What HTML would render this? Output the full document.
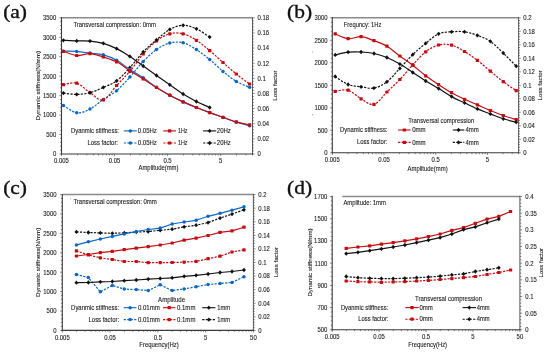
<!DOCTYPE html>
<html><head><meta charset="utf-8"><style>
html,body{margin:0;padding:0;background:#fff;}
body{width:550px;height:354px;overflow:hidden;font-family:"Liberation Sans", sans-serif;}
svg{display:block;filter:blur(0.35px);}
</style></head><body>
<svg width="550" height="354" viewBox="0 0 550 354">
<rect width="550" height="354" fill="#ffffff"/>
<line x1="61.50" y1="17.80" x2="252.50" y2="17.80" stroke="#8a8a8a" stroke-width="1.5" />
<line x1="61.50" y1="17.10" x2="61.50" y2="154.50" stroke="#3a3a3a" stroke-width="1.1" />
<line x1="252.50" y1="17.10" x2="252.50" y2="154.50" stroke="#5a5a5a" stroke-width="1.0" />
<line x1="61.00" y1="154.00" x2="253.00" y2="154.00" stroke="#3a3a3a" stroke-width="1.1" />
<line x1="59.30" y1="154.00" x2="61.50" y2="154.00" stroke="#3a3a3a" stroke-width="0.6" />
<line x1="60.10" y1="150.11" x2="61.50" y2="150.11" stroke="#3a3a3a" stroke-width="0.6" />
<line x1="60.10" y1="146.22" x2="61.50" y2="146.22" stroke="#3a3a3a" stroke-width="0.6" />
<line x1="60.10" y1="142.33" x2="61.50" y2="142.33" stroke="#3a3a3a" stroke-width="0.6" />
<line x1="60.10" y1="138.43" x2="61.50" y2="138.43" stroke="#3a3a3a" stroke-width="0.6" />
<line x1="59.30" y1="134.54" x2="61.50" y2="134.54" stroke="#3a3a3a" stroke-width="0.6" />
<line x1="60.10" y1="130.65" x2="61.50" y2="130.65" stroke="#3a3a3a" stroke-width="0.6" />
<line x1="60.10" y1="126.76" x2="61.50" y2="126.76" stroke="#3a3a3a" stroke-width="0.6" />
<line x1="60.10" y1="122.87" x2="61.50" y2="122.87" stroke="#3a3a3a" stroke-width="0.6" />
<line x1="60.10" y1="118.98" x2="61.50" y2="118.98" stroke="#3a3a3a" stroke-width="0.6" />
<line x1="59.30" y1="115.09" x2="61.50" y2="115.09" stroke="#3a3a3a" stroke-width="0.6" />
<line x1="60.10" y1="111.19" x2="61.50" y2="111.19" stroke="#3a3a3a" stroke-width="0.6" />
<line x1="60.10" y1="107.30" x2="61.50" y2="107.30" stroke="#3a3a3a" stroke-width="0.6" />
<line x1="60.10" y1="103.41" x2="61.50" y2="103.41" stroke="#3a3a3a" stroke-width="0.6" />
<line x1="60.10" y1="99.52" x2="61.50" y2="99.52" stroke="#3a3a3a" stroke-width="0.6" />
<line x1="59.30" y1="95.63" x2="61.50" y2="95.63" stroke="#3a3a3a" stroke-width="0.6" />
<line x1="60.10" y1="91.74" x2="61.50" y2="91.74" stroke="#3a3a3a" stroke-width="0.6" />
<line x1="60.10" y1="87.85" x2="61.50" y2="87.85" stroke="#3a3a3a" stroke-width="0.6" />
<line x1="60.10" y1="83.95" x2="61.50" y2="83.95" stroke="#3a3a3a" stroke-width="0.6" />
<line x1="60.10" y1="80.06" x2="61.50" y2="80.06" stroke="#3a3a3a" stroke-width="0.6" />
<line x1="59.30" y1="76.17" x2="61.50" y2="76.17" stroke="#3a3a3a" stroke-width="0.6" />
<line x1="60.10" y1="72.28" x2="61.50" y2="72.28" stroke="#3a3a3a" stroke-width="0.6" />
<line x1="60.10" y1="68.39" x2="61.50" y2="68.39" stroke="#3a3a3a" stroke-width="0.6" />
<line x1="60.10" y1="64.50" x2="61.50" y2="64.50" stroke="#3a3a3a" stroke-width="0.6" />
<line x1="60.10" y1="60.61" x2="61.50" y2="60.61" stroke="#3a3a3a" stroke-width="0.6" />
<line x1="59.30" y1="56.71" x2="61.50" y2="56.71" stroke="#3a3a3a" stroke-width="0.6" />
<line x1="60.10" y1="52.82" x2="61.50" y2="52.82" stroke="#3a3a3a" stroke-width="0.6" />
<line x1="60.10" y1="48.93" x2="61.50" y2="48.93" stroke="#3a3a3a" stroke-width="0.6" />
<line x1="60.10" y1="45.04" x2="61.50" y2="45.04" stroke="#3a3a3a" stroke-width="0.6" />
<line x1="60.10" y1="41.15" x2="61.50" y2="41.15" stroke="#3a3a3a" stroke-width="0.6" />
<line x1="59.30" y1="37.26" x2="61.50" y2="37.26" stroke="#3a3a3a" stroke-width="0.6" />
<line x1="60.10" y1="33.37" x2="61.50" y2="33.37" stroke="#3a3a3a" stroke-width="0.6" />
<line x1="60.10" y1="29.47" x2="61.50" y2="29.47" stroke="#3a3a3a" stroke-width="0.6" />
<line x1="60.10" y1="25.58" x2="61.50" y2="25.58" stroke="#3a3a3a" stroke-width="0.6" />
<line x1="60.10" y1="21.69" x2="61.50" y2="21.69" stroke="#3a3a3a" stroke-width="0.6" />
<line x1="59.30" y1="17.80" x2="61.50" y2="17.80" stroke="#3a3a3a" stroke-width="0.6" />
<text x="56.20" y="156.40" font-size="6.6" text-anchor="end" fill="#1a1a1a" font-family="Liberation Sans" stroke="#1a1a1a" stroke-width="0.1" transform="translate(56.20 156.40) scale(0.9 1) translate(-56.20 -156.40)" >0</text>
<text x="56.20" y="136.94" font-size="6.6" text-anchor="end" fill="#1a1a1a" font-family="Liberation Sans" stroke="#1a1a1a" stroke-width="0.1" transform="translate(56.20 136.94) scale(0.9 1) translate(-56.20 -136.94)" >500</text>
<text x="56.20" y="117.49" font-size="6.6" text-anchor="end" fill="#1a1a1a" font-family="Liberation Sans" stroke="#1a1a1a" stroke-width="0.1" transform="translate(56.20 117.49) scale(0.9 1) translate(-56.20 -117.49)" >1000</text>
<text x="56.20" y="98.03" font-size="6.6" text-anchor="end" fill="#1a1a1a" font-family="Liberation Sans" stroke="#1a1a1a" stroke-width="0.1" transform="translate(56.20 98.03) scale(0.9 1) translate(-56.20 -98.03)" >1500</text>
<text x="56.20" y="78.57" font-size="6.6" text-anchor="end" fill="#1a1a1a" font-family="Liberation Sans" stroke="#1a1a1a" stroke-width="0.1" transform="translate(56.20 78.57) scale(0.9 1) translate(-56.20 -78.57)" >2000</text>
<text x="56.20" y="59.11" font-size="6.6" text-anchor="end" fill="#1a1a1a" font-family="Liberation Sans" stroke="#1a1a1a" stroke-width="0.1" transform="translate(56.20 59.11) scale(0.9 1) translate(-56.20 -59.11)" >2500</text>
<text x="56.20" y="39.66" font-size="6.6" text-anchor="end" fill="#1a1a1a" font-family="Liberation Sans" stroke="#1a1a1a" stroke-width="0.1" transform="translate(56.20 39.66) scale(0.9 1) translate(-56.20 -39.66)" >3000</text>
<text x="56.20" y="20.20" font-size="6.6" text-anchor="end" fill="#1a1a1a" font-family="Liberation Sans" stroke="#1a1a1a" stroke-width="0.1" transform="translate(56.20 20.20) scale(0.9 1) translate(-56.20 -20.20)" >3500</text>
<line x1="252.50" y1="154.00" x2="254.70" y2="154.00" stroke="#3a3a3a" stroke-width="0.6" />
<line x1="252.50" y1="150.97" x2="253.90" y2="150.97" stroke="#3a3a3a" stroke-width="0.6" />
<line x1="252.50" y1="147.95" x2="253.90" y2="147.95" stroke="#3a3a3a" stroke-width="0.6" />
<line x1="252.50" y1="144.92" x2="253.90" y2="144.92" stroke="#3a3a3a" stroke-width="0.6" />
<line x1="252.50" y1="141.89" x2="253.90" y2="141.89" stroke="#3a3a3a" stroke-width="0.6" />
<line x1="252.50" y1="138.87" x2="254.70" y2="138.87" stroke="#3a3a3a" stroke-width="0.6" />
<line x1="252.50" y1="135.84" x2="253.90" y2="135.84" stroke="#3a3a3a" stroke-width="0.6" />
<line x1="252.50" y1="132.81" x2="253.90" y2="132.81" stroke="#3a3a3a" stroke-width="0.6" />
<line x1="252.50" y1="129.79" x2="253.90" y2="129.79" stroke="#3a3a3a" stroke-width="0.6" />
<line x1="252.50" y1="126.76" x2="253.90" y2="126.76" stroke="#3a3a3a" stroke-width="0.6" />
<line x1="252.50" y1="123.73" x2="254.70" y2="123.73" stroke="#3a3a3a" stroke-width="0.6" />
<line x1="252.50" y1="120.71" x2="253.90" y2="120.71" stroke="#3a3a3a" stroke-width="0.6" />
<line x1="252.50" y1="117.68" x2="253.90" y2="117.68" stroke="#3a3a3a" stroke-width="0.6" />
<line x1="252.50" y1="114.65" x2="253.90" y2="114.65" stroke="#3a3a3a" stroke-width="0.6" />
<line x1="252.50" y1="111.63" x2="253.90" y2="111.63" stroke="#3a3a3a" stroke-width="0.6" />
<line x1="252.50" y1="108.60" x2="254.70" y2="108.60" stroke="#3a3a3a" stroke-width="0.6" />
<line x1="252.50" y1="105.57" x2="253.90" y2="105.57" stroke="#3a3a3a" stroke-width="0.6" />
<line x1="252.50" y1="102.55" x2="253.90" y2="102.55" stroke="#3a3a3a" stroke-width="0.6" />
<line x1="252.50" y1="99.52" x2="253.90" y2="99.52" stroke="#3a3a3a" stroke-width="0.6" />
<line x1="252.50" y1="96.49" x2="253.90" y2="96.49" stroke="#3a3a3a" stroke-width="0.6" />
<line x1="252.50" y1="93.47" x2="254.70" y2="93.47" stroke="#3a3a3a" stroke-width="0.6" />
<line x1="252.50" y1="90.44" x2="253.90" y2="90.44" stroke="#3a3a3a" stroke-width="0.6" />
<line x1="252.50" y1="87.41" x2="253.90" y2="87.41" stroke="#3a3a3a" stroke-width="0.6" />
<line x1="252.50" y1="84.39" x2="253.90" y2="84.39" stroke="#3a3a3a" stroke-width="0.6" />
<line x1="252.50" y1="81.36" x2="253.90" y2="81.36" stroke="#3a3a3a" stroke-width="0.6" />
<line x1="252.50" y1="78.33" x2="254.70" y2="78.33" stroke="#3a3a3a" stroke-width="0.6" />
<line x1="252.50" y1="75.31" x2="253.90" y2="75.31" stroke="#3a3a3a" stroke-width="0.6" />
<line x1="252.50" y1="72.28" x2="253.90" y2="72.28" stroke="#3a3a3a" stroke-width="0.6" />
<line x1="252.50" y1="69.25" x2="253.90" y2="69.25" stroke="#3a3a3a" stroke-width="0.6" />
<line x1="252.50" y1="66.23" x2="253.90" y2="66.23" stroke="#3a3a3a" stroke-width="0.6" />
<line x1="252.50" y1="63.20" x2="254.70" y2="63.20" stroke="#3a3a3a" stroke-width="0.6" />
<line x1="252.50" y1="60.17" x2="253.90" y2="60.17" stroke="#3a3a3a" stroke-width="0.6" />
<line x1="252.50" y1="57.15" x2="253.90" y2="57.15" stroke="#3a3a3a" stroke-width="0.6" />
<line x1="252.50" y1="54.12" x2="253.90" y2="54.12" stroke="#3a3a3a" stroke-width="0.6" />
<line x1="252.50" y1="51.09" x2="253.90" y2="51.09" stroke="#3a3a3a" stroke-width="0.6" />
<line x1="252.50" y1="48.07" x2="254.70" y2="48.07" stroke="#3a3a3a" stroke-width="0.6" />
<line x1="252.50" y1="45.04" x2="253.90" y2="45.04" stroke="#3a3a3a" stroke-width="0.6" />
<line x1="252.50" y1="42.01" x2="253.90" y2="42.01" stroke="#3a3a3a" stroke-width="0.6" />
<line x1="252.50" y1="38.99" x2="253.90" y2="38.99" stroke="#3a3a3a" stroke-width="0.6" />
<line x1="252.50" y1="35.96" x2="253.90" y2="35.96" stroke="#3a3a3a" stroke-width="0.6" />
<line x1="252.50" y1="32.93" x2="254.70" y2="32.93" stroke="#3a3a3a" stroke-width="0.6" />
<line x1="252.50" y1="29.91" x2="253.90" y2="29.91" stroke="#3a3a3a" stroke-width="0.6" />
<line x1="252.50" y1="26.88" x2="253.90" y2="26.88" stroke="#3a3a3a" stroke-width="0.6" />
<line x1="252.50" y1="23.85" x2="253.90" y2="23.85" stroke="#3a3a3a" stroke-width="0.6" />
<line x1="252.50" y1="20.83" x2="253.90" y2="20.83" stroke="#3a3a3a" stroke-width="0.6" />
<line x1="252.50" y1="17.80" x2="254.70" y2="17.80" stroke="#3a3a3a" stroke-width="0.6" />
<text x="257.50" y="156.40" font-size="6.6" text-anchor="start" fill="#1a1a1a" font-family="Liberation Sans" stroke="#1a1a1a" stroke-width="0.1" transform="translate(257.50 156.40) scale(0.9 1) translate(-257.50 -156.40)" >0</text>
<text x="257.50" y="141.27" font-size="6.6" text-anchor="start" fill="#1a1a1a" font-family="Liberation Sans" stroke="#1a1a1a" stroke-width="0.1" transform="translate(257.50 141.27) scale(0.9 1) translate(-257.50 -141.27)" >0.02</text>
<text x="257.50" y="126.13" font-size="6.6" text-anchor="start" fill="#1a1a1a" font-family="Liberation Sans" stroke="#1a1a1a" stroke-width="0.1" transform="translate(257.50 126.13) scale(0.9 1) translate(-257.50 -126.13)" >0.04</text>
<text x="257.50" y="111.00" font-size="6.6" text-anchor="start" fill="#1a1a1a" font-family="Liberation Sans" stroke="#1a1a1a" stroke-width="0.1" transform="translate(257.50 111.00) scale(0.9 1) translate(-257.50 -111.00)" >0.06</text>
<text x="257.50" y="95.87" font-size="6.6" text-anchor="start" fill="#1a1a1a" font-family="Liberation Sans" stroke="#1a1a1a" stroke-width="0.1" transform="translate(257.50 95.87) scale(0.9 1) translate(-257.50 -95.87)" >0.08</text>
<text x="257.50" y="80.73" font-size="6.6" text-anchor="start" fill="#1a1a1a" font-family="Liberation Sans" stroke="#1a1a1a" stroke-width="0.1" transform="translate(257.50 80.73) scale(0.9 1) translate(-257.50 -80.73)" >0.1</text>
<text x="257.50" y="65.60" font-size="6.6" text-anchor="start" fill="#1a1a1a" font-family="Liberation Sans" stroke="#1a1a1a" stroke-width="0.1" transform="translate(257.50 65.60) scale(0.9 1) translate(-257.50 -65.60)" >0.12</text>
<text x="257.50" y="50.47" font-size="6.6" text-anchor="start" fill="#1a1a1a" font-family="Liberation Sans" stroke="#1a1a1a" stroke-width="0.1" transform="translate(257.50 50.47) scale(0.9 1) translate(-257.50 -50.47)" >0.14</text>
<text x="257.50" y="35.33" font-size="6.6" text-anchor="start" fill="#1a1a1a" font-family="Liberation Sans" stroke="#1a1a1a" stroke-width="0.1" transform="translate(257.50 35.33) scale(0.9 1) translate(-257.50 -35.33)" >0.16</text>
<text x="257.50" y="20.20" font-size="6.6" text-anchor="start" fill="#1a1a1a" font-family="Liberation Sans" stroke="#1a1a1a" stroke-width="0.1" transform="translate(257.50 20.20) scale(0.9 1) translate(-257.50 -20.20)" >0.18</text>
<line x1="61.50" y1="154.00" x2="61.50" y2="156.20" stroke="#3a3a3a" stroke-width="0.6" />
<text x="61.50" y="163.30" font-size="6.6" text-anchor="middle" fill="#1a1a1a" font-family="Liberation Sans" stroke="#1a1a1a" stroke-width="0.1" transform="translate(61.50 163.30) scale(0.9 1) translate(-61.50 -163.30)" >0.005</text>
<line x1="77.46" y1="154.00" x2="77.46" y2="155.40" stroke="#3a3a3a" stroke-width="0.6" />
<line x1="86.80" y1="154.00" x2="86.80" y2="155.40" stroke="#3a3a3a" stroke-width="0.6" />
<line x1="93.42" y1="154.00" x2="93.42" y2="155.40" stroke="#3a3a3a" stroke-width="0.6" />
<line x1="98.56" y1="154.00" x2="98.56" y2="155.40" stroke="#3a3a3a" stroke-width="0.6" />
<line x1="102.76" y1="154.00" x2="102.76" y2="155.40" stroke="#3a3a3a" stroke-width="0.6" />
<line x1="106.31" y1="154.00" x2="106.31" y2="155.40" stroke="#3a3a3a" stroke-width="0.6" />
<line x1="109.39" y1="154.00" x2="109.39" y2="155.40" stroke="#3a3a3a" stroke-width="0.6" />
<line x1="112.10" y1="154.00" x2="112.10" y2="155.40" stroke="#3a3a3a" stroke-width="0.6" />
<line x1="114.53" y1="154.00" x2="114.53" y2="156.20" stroke="#3a3a3a" stroke-width="0.6" />
<text x="114.53" y="163.30" font-size="6.6" text-anchor="middle" fill="#1a1a1a" font-family="Liberation Sans" stroke="#1a1a1a" stroke-width="0.1" transform="translate(114.53 163.30) scale(0.9 1) translate(-114.53 -163.30)" >0.05</text>
<line x1="130.49" y1="154.00" x2="130.49" y2="155.40" stroke="#3a3a3a" stroke-width="0.6" />
<line x1="139.82" y1="154.00" x2="139.82" y2="155.40" stroke="#3a3a3a" stroke-width="0.6" />
<line x1="146.45" y1="154.00" x2="146.45" y2="155.40" stroke="#3a3a3a" stroke-width="0.6" />
<line x1="151.59" y1="154.00" x2="151.59" y2="155.40" stroke="#3a3a3a" stroke-width="0.6" />
<line x1="155.79" y1="154.00" x2="155.79" y2="155.40" stroke="#3a3a3a" stroke-width="0.6" />
<line x1="159.34" y1="154.00" x2="159.34" y2="155.40" stroke="#3a3a3a" stroke-width="0.6" />
<line x1="162.41" y1="154.00" x2="162.41" y2="155.40" stroke="#3a3a3a" stroke-width="0.6" />
<line x1="165.12" y1="154.00" x2="165.12" y2="155.40" stroke="#3a3a3a" stroke-width="0.6" />
<line x1="167.55" y1="154.00" x2="167.55" y2="156.20" stroke="#3a3a3a" stroke-width="0.6" />
<text x="167.55" y="163.30" font-size="6.6" text-anchor="middle" fill="#1a1a1a" font-family="Liberation Sans" stroke="#1a1a1a" stroke-width="0.1" transform="translate(167.55 163.30) scale(0.9 1) translate(-167.55 -163.30)" >0.5</text>
<line x1="183.51" y1="154.00" x2="183.51" y2="155.40" stroke="#3a3a3a" stroke-width="0.6" />
<line x1="192.85" y1="154.00" x2="192.85" y2="155.40" stroke="#3a3a3a" stroke-width="0.6" />
<line x1="199.47" y1="154.00" x2="199.47" y2="155.40" stroke="#3a3a3a" stroke-width="0.6" />
<line x1="204.61" y1="154.00" x2="204.61" y2="155.40" stroke="#3a3a3a" stroke-width="0.6" />
<line x1="208.81" y1="154.00" x2="208.81" y2="155.40" stroke="#3a3a3a" stroke-width="0.6" />
<line x1="212.36" y1="154.00" x2="212.36" y2="155.40" stroke="#3a3a3a" stroke-width="0.6" />
<line x1="215.44" y1="154.00" x2="215.44" y2="155.40" stroke="#3a3a3a" stroke-width="0.6" />
<line x1="218.15" y1="154.00" x2="218.15" y2="155.40" stroke="#3a3a3a" stroke-width="0.6" />
<line x1="220.58" y1="154.00" x2="220.58" y2="156.20" stroke="#3a3a3a" stroke-width="0.6" />
<text x="220.58" y="163.30" font-size="6.6" text-anchor="middle" fill="#1a1a1a" font-family="Liberation Sans" stroke="#1a1a1a" stroke-width="0.1" transform="translate(220.58 163.30) scale(0.9 1) translate(-220.58 -163.30)" >5</text>
<line x1="236.54" y1="154.00" x2="236.54" y2="155.40" stroke="#3a3a3a" stroke-width="0.6" />
<line x1="245.88" y1="154.00" x2="245.88" y2="155.40" stroke="#3a3a3a" stroke-width="0.6" />
<line x1="252.50" y1="154.00" x2="252.50" y2="155.40" stroke="#3a3a3a" stroke-width="0.6" />
<path d="M63.40,105.40 C65.62,106.63 72.27,112.20 76.70,112.80 C81.13,113.40 85.57,111.22 90.00,109.00 C94.43,106.78 98.87,102.55 103.30,99.50 C107.73,96.45 112.17,94.43 116.60,90.70 C121.03,86.97 125.47,81.97 129.90,77.10 C134.33,72.23 138.77,66.10 143.20,61.50 C147.63,56.90 152.07,52.58 156.50,49.50 C160.93,46.42 165.37,44.13 169.80,43.00 C174.23,41.87 178.67,41.60 183.10,42.70 C187.53,43.80 191.97,46.80 196.40,49.60 C200.83,52.40 205.27,55.87 209.70,59.50 C214.13,63.13 218.57,67.75 223.00,71.40 C227.43,75.05 231.87,78.75 236.30,81.40 C240.73,84.05 247.38,86.32 249.60,87.30" fill="none" stroke="#0c66c4" stroke-width="1.2" stroke-dasharray="2.2,1.3"/>
<circle cx="63.40" cy="105.40" r="1.75" fill="#0c66c4"/>
<circle cx="76.70" cy="112.80" r="1.75" fill="#0c66c4"/>
<circle cx="90.00" cy="109.00" r="1.75" fill="#0c66c4"/>
<circle cx="103.30" cy="99.50" r="1.75" fill="#0c66c4"/>
<circle cx="116.60" cy="90.70" r="1.75" fill="#0c66c4"/>
<circle cx="129.90" cy="77.10" r="1.75" fill="#0c66c4"/>
<circle cx="143.20" cy="61.50" r="1.75" fill="#0c66c4"/>
<circle cx="156.50" cy="49.50" r="1.75" fill="#0c66c4"/>
<circle cx="169.80" cy="43.00" r="1.75" fill="#0c66c4"/>
<circle cx="183.10" cy="42.70" r="1.75" fill="#0c66c4"/>
<circle cx="196.40" cy="49.60" r="1.75" fill="#0c66c4"/>
<circle cx="209.70" cy="59.50" r="1.75" fill="#0c66c4"/>
<circle cx="223.00" cy="71.40" r="1.75" fill="#0c66c4"/>
<circle cx="236.30" cy="81.40" r="1.75" fill="#0c66c4"/>
<circle cx="249.60" cy="87.30" r="1.75" fill="#0c66c4"/>
<path d="M63.40,84.70 C65.62,84.45 72.27,81.87 76.70,83.20 C81.13,84.53 85.57,89.90 90.00,92.70 C94.43,95.50 98.87,101.20 103.30,100.00 C107.73,98.80 112.17,90.28 116.60,85.50 C121.03,80.72 125.47,76.55 129.90,71.30 C134.33,66.05 138.77,59.07 143.20,54.00 C147.63,48.93 152.07,44.27 156.50,40.90 C160.93,37.53 165.37,34.98 169.80,33.80 C174.23,32.62 178.67,32.72 183.10,33.80 C187.53,34.88 191.97,37.50 196.40,40.30 C200.83,43.10 205.27,46.90 209.70,50.60 C214.13,54.30 218.57,58.60 223.00,62.50 C227.43,66.40 231.87,70.42 236.30,74.00 C240.73,77.58 247.38,82.33 249.60,84.00" fill="none" stroke="#c40c12" stroke-width="1.2" stroke-dasharray="2.2,1.3"/>
<rect x="61.75" y="83.10" width="3.3" height="3.2" rx="0.6" fill="#c40c12"/>
<rect x="75.05" y="81.60" width="3.3" height="3.2" rx="0.6" fill="#c40c12"/>
<rect x="88.35" y="91.10" width="3.3" height="3.2" rx="0.6" fill="#c40c12"/>
<rect x="101.65" y="98.40" width="3.3" height="3.2" rx="0.6" fill="#c40c12"/>
<rect x="114.95" y="83.90" width="3.3" height="3.2" rx="0.6" fill="#c40c12"/>
<rect x="128.25" y="69.70" width="3.3" height="3.2" rx="0.6" fill="#c40c12"/>
<rect x="141.55" y="52.40" width="3.3" height="3.2" rx="0.6" fill="#c40c12"/>
<rect x="154.85" y="39.30" width="3.3" height="3.2" rx="0.6" fill="#c40c12"/>
<rect x="168.15" y="32.20" width="3.3" height="3.2" rx="0.6" fill="#c40c12"/>
<rect x="181.45" y="32.20" width="3.3" height="3.2" rx="0.6" fill="#c40c12"/>
<rect x="194.75" y="38.70" width="3.3" height="3.2" rx="0.6" fill="#c40c12"/>
<rect x="208.05" y="49.00" width="3.3" height="3.2" rx="0.6" fill="#c40c12"/>
<rect x="221.35" y="60.90" width="3.3" height="3.2" rx="0.6" fill="#c40c12"/>
<rect x="234.65" y="72.40" width="3.3" height="3.2" rx="0.6" fill="#c40c12"/>
<rect x="247.95" y="82.40" width="3.3" height="3.2" rx="0.6" fill="#c40c12"/>
<path d="M63.40,93.10 C65.62,93.32 72.27,94.47 76.70,94.40 C81.13,94.33 85.57,93.87 90.00,92.70 C94.43,91.53 98.87,89.37 103.30,87.40 C107.73,85.43 112.17,84.20 116.60,80.90 C121.03,77.60 125.47,72.43 129.90,67.60 C134.33,62.77 138.77,56.52 143.20,51.90 C147.63,47.28 152.07,43.65 156.50,39.90 C160.93,36.15 165.37,31.83 169.80,29.40 C174.23,26.97 178.67,25.40 183.10,25.30 C187.53,25.20 191.97,26.83 196.40,28.80 C200.83,30.77 207.48,35.72 209.70,37.10" fill="none" stroke="#111111" stroke-width="1.2" stroke-dasharray="2.2,1.3"/>
<path d="M63.40,90.95 L65.35,93.10 L63.40,95.25 L61.45,93.10 Z" fill="#111111"/>
<path d="M76.70,92.25 L78.65,94.40 L76.70,96.55 L74.75,94.40 Z" fill="#111111"/>
<path d="M90.00,90.55 L91.95,92.70 L90.00,94.85 L88.05,92.70 Z" fill="#111111"/>
<path d="M103.30,85.25 L105.25,87.40 L103.30,89.55 L101.35,87.40 Z" fill="#111111"/>
<path d="M116.60,78.75 L118.55,80.90 L116.60,83.05 L114.65,80.90 Z" fill="#111111"/>
<path d="M129.90,65.45 L131.85,67.60 L129.90,69.75 L127.95,67.60 Z" fill="#111111"/>
<path d="M143.20,49.75 L145.15,51.90 L143.20,54.05 L141.25,51.90 Z" fill="#111111"/>
<path d="M156.50,37.75 L158.45,39.90 L156.50,42.05 L154.55,39.90 Z" fill="#111111"/>
<path d="M169.80,27.25 L171.75,29.40 L169.80,31.55 L167.85,29.40 Z" fill="#111111"/>
<path d="M183.10,23.15 L185.05,25.30 L183.10,27.45 L181.15,25.30 Z" fill="#111111"/>
<path d="M196.40,26.65 L198.35,28.80 L196.40,30.95 L194.45,28.80 Z" fill="#111111"/>
<path d="M209.70,34.95 L211.65,37.10 L209.70,39.25 L207.75,37.10 Z" fill="#111111"/>
<path d="M63.40,51.20 C65.62,51.23 72.27,51.08 76.70,51.40 C81.13,51.72 85.57,52.53 90.00,53.10 C94.43,53.67 98.87,53.62 103.30,54.80 C107.73,55.98 112.17,57.73 116.60,60.20 C121.03,62.67 125.47,66.67 129.90,69.60 C134.33,72.53 138.77,74.83 143.20,77.80 C147.63,80.77 152.07,84.50 156.50,87.40 C160.93,90.30 165.37,92.78 169.80,95.20 C174.23,97.62 178.67,99.85 183.10,101.90 C187.53,103.95 191.97,105.72 196.40,107.50 C200.83,109.28 205.27,110.95 209.70,112.60 C214.13,114.25 218.57,115.80 223.00,117.40 C227.43,119.00 231.87,120.82 236.30,122.20 C240.73,123.58 247.38,125.12 249.60,125.70" fill="none" stroke="#0c66c4" stroke-width="1.2"/>
<circle cx="63.40" cy="51.20" r="1.75" fill="#0c66c4"/>
<circle cx="76.70" cy="51.40" r="1.75" fill="#0c66c4"/>
<circle cx="90.00" cy="53.10" r="1.75" fill="#0c66c4"/>
<circle cx="103.30" cy="54.80" r="1.75" fill="#0c66c4"/>
<circle cx="116.60" cy="60.20" r="1.75" fill="#0c66c4"/>
<circle cx="129.90" cy="69.60" r="1.75" fill="#0c66c4"/>
<circle cx="143.20" cy="77.80" r="1.75" fill="#0c66c4"/>
<circle cx="156.50" cy="87.40" r="1.75" fill="#0c66c4"/>
<circle cx="169.80" cy="95.20" r="1.75" fill="#0c66c4"/>
<circle cx="183.10" cy="101.90" r="1.75" fill="#0c66c4"/>
<circle cx="196.40" cy="107.50" r="1.75" fill="#0c66c4"/>
<circle cx="209.70" cy="112.60" r="1.75" fill="#0c66c4"/>
<circle cx="223.00" cy="117.40" r="1.75" fill="#0c66c4"/>
<circle cx="236.30" cy="122.20" r="1.75" fill="#0c66c4"/>
<circle cx="249.60" cy="125.70" r="1.75" fill="#0c66c4"/>
<path d="M63.40,51.30 C65.62,52.00 72.27,55.10 76.70,55.50 C81.13,55.90 85.57,53.45 90.00,53.70 C94.43,53.95 98.87,55.65 103.30,57.00 C107.73,58.35 112.17,59.52 116.60,61.80 C121.03,64.08 125.47,67.85 129.90,70.70 C134.33,73.55 138.77,76.12 143.20,78.90 C147.63,81.68 152.07,84.68 156.50,87.40 C160.93,90.12 165.37,92.78 169.80,95.20 C174.23,97.62 178.67,99.85 183.10,101.90 C187.53,103.95 191.97,105.72 196.40,107.50 C200.83,109.28 205.27,110.97 209.70,112.60 C214.13,114.23 218.57,115.75 223.00,117.30 C227.43,118.85 231.87,120.63 236.30,121.90 C240.73,123.17 247.38,124.40 249.60,124.90" fill="none" stroke="#c40c12" stroke-width="1.2"/>
<rect x="61.75" y="49.70" width="3.3" height="3.2" rx="0.6" fill="#c40c12"/>
<rect x="75.05" y="53.90" width="3.3" height="3.2" rx="0.6" fill="#c40c12"/>
<rect x="88.35" y="52.10" width="3.3" height="3.2" rx="0.6" fill="#c40c12"/>
<rect x="101.65" y="55.40" width="3.3" height="3.2" rx="0.6" fill="#c40c12"/>
<rect x="114.95" y="60.20" width="3.3" height="3.2" rx="0.6" fill="#c40c12"/>
<rect x="128.25" y="69.10" width="3.3" height="3.2" rx="0.6" fill="#c40c12"/>
<rect x="141.55" y="77.30" width="3.3" height="3.2" rx="0.6" fill="#c40c12"/>
<rect x="154.85" y="85.80" width="3.3" height="3.2" rx="0.6" fill="#c40c12"/>
<rect x="168.15" y="93.60" width="3.3" height="3.2" rx="0.6" fill="#c40c12"/>
<rect x="181.45" y="100.30" width="3.3" height="3.2" rx="0.6" fill="#c40c12"/>
<rect x="194.75" y="105.90" width="3.3" height="3.2" rx="0.6" fill="#c40c12"/>
<rect x="208.05" y="111.00" width="3.3" height="3.2" rx="0.6" fill="#c40c12"/>
<rect x="221.35" y="115.70" width="3.3" height="3.2" rx="0.6" fill="#c40c12"/>
<rect x="234.65" y="120.30" width="3.3" height="3.2" rx="0.6" fill="#c40c12"/>
<rect x="247.95" y="123.30" width="3.3" height="3.2" rx="0.6" fill="#c40c12"/>
<path d="M63.40,40.30 C65.62,40.40 72.27,40.77 76.70,40.90 C81.13,41.03 85.57,40.70 90.00,41.10 C94.43,41.50 98.87,42.05 103.30,43.30 C107.73,44.55 112.17,46.42 116.60,48.60 C121.03,50.78 125.47,53.50 129.90,56.40 C134.33,59.30 138.77,62.82 143.20,66.00 C147.63,69.18 152.07,72.37 156.50,75.50 C160.93,78.63 165.37,81.72 169.80,84.80 C174.23,87.88 178.67,91.22 183.10,94.00 C187.53,96.78 191.97,99.25 196.40,101.50 C200.83,103.75 207.48,106.50 209.70,107.50" fill="none" stroke="#111111" stroke-width="1.2"/>
<path d="M63.40,38.15 L65.35,40.30 L63.40,42.45 L61.45,40.30 Z" fill="#111111"/>
<path d="M76.70,38.75 L78.65,40.90 L76.70,43.05 L74.75,40.90 Z" fill="#111111"/>
<path d="M90.00,38.95 L91.95,41.10 L90.00,43.25 L88.05,41.10 Z" fill="#111111"/>
<path d="M103.30,41.15 L105.25,43.30 L103.30,45.45 L101.35,43.30 Z" fill="#111111"/>
<path d="M116.60,46.45 L118.55,48.60 L116.60,50.75 L114.65,48.60 Z" fill="#111111"/>
<path d="M129.90,54.25 L131.85,56.40 L129.90,58.55 L127.95,56.40 Z" fill="#111111"/>
<path d="M143.20,63.85 L145.15,66.00 L143.20,68.15 L141.25,66.00 Z" fill="#111111"/>
<path d="M156.50,73.35 L158.45,75.50 L156.50,77.65 L154.55,75.50 Z" fill="#111111"/>
<path d="M169.80,82.65 L171.75,84.80 L169.80,86.95 L167.85,84.80 Z" fill="#111111"/>
<path d="M183.10,91.85 L185.05,94.00 L183.10,96.15 L181.15,94.00 Z" fill="#111111"/>
<path d="M196.40,99.35 L198.35,101.50 L196.40,103.65 L194.45,101.50 Z" fill="#111111"/>
<path d="M209.70,105.35 L211.65,107.50 L209.70,109.65 L207.75,107.50 Z" fill="#111111"/>
<text x="73.40" y="27.00" font-size="6.6" text-anchor="start" fill="#1a1a1a" font-family="Liberation Sans" stroke="#1a1a1a" stroke-width="0.1" textLength="82.50" lengthAdjust="spacingAndGlyphs" >Transversal compression: 0mm</text>
<text x="158.50" y="170.30" font-size="6.5" text-anchor="middle" fill="#1a1a1a" font-family="Liberation Sans" stroke="#1a1a1a" stroke-width="0.1" textLength="40.00" lengthAdjust="spacingAndGlyphs" >Amplitude(mm)</text>
<text x="39.90" y="85.70" font-size="6.2" text-anchor="middle" fill="#1a1a1a" font-family="Liberation Sans" stroke="#1a1a1a" stroke-width="0.1" textLength="69.40" lengthAdjust="spacingAndGlyphs" transform="rotate(-90 39.90 85.70)" >Dynamic stiffness(N/mm)</text>
<text x="277.00" y="85.60" font-size="6.2" text-anchor="middle" fill="#1a1a1a" font-family="Liberation Sans" stroke="#1a1a1a" stroke-width="0.1" textLength="30.20" lengthAdjust="spacingAndGlyphs" transform="rotate(-90 277.00 85.60)" >Loss factor</text>
<text x="3.20" y="17.60" font-size="18.5" text-anchor="start" fill="#111" font-family="Liberation Serif" stroke="#111" stroke-width="0.35" transform="translate(3.20 17.60) scale(1.16 1) translate(-3.20 -17.60)" >(a)</text>
<line x1="332.30" y1="17.80" x2="518.60" y2="17.80" stroke="#8a8a8a" stroke-width="1.5" />
<line x1="332.30" y1="17.10" x2="332.30" y2="153.30" stroke="#3a3a3a" stroke-width="1.1" />
<line x1="518.60" y1="17.10" x2="518.60" y2="153.30" stroke="#5a5a5a" stroke-width="1.0" />
<line x1="331.80" y1="152.80" x2="519.10" y2="152.80" stroke="#3a3a3a" stroke-width="1.1" />
<line x1="330.10" y1="152.80" x2="332.30" y2="152.80" stroke="#3a3a3a" stroke-width="0.6" />
<line x1="330.90" y1="148.30" x2="332.30" y2="148.30" stroke="#3a3a3a" stroke-width="0.6" />
<line x1="330.90" y1="143.80" x2="332.30" y2="143.80" stroke="#3a3a3a" stroke-width="0.6" />
<line x1="330.90" y1="139.30" x2="332.30" y2="139.30" stroke="#3a3a3a" stroke-width="0.6" />
<line x1="330.90" y1="134.80" x2="332.30" y2="134.80" stroke="#3a3a3a" stroke-width="0.6" />
<line x1="330.10" y1="130.30" x2="332.30" y2="130.30" stroke="#3a3a3a" stroke-width="0.6" />
<line x1="330.90" y1="125.80" x2="332.30" y2="125.80" stroke="#3a3a3a" stroke-width="0.6" />
<line x1="330.90" y1="121.30" x2="332.30" y2="121.30" stroke="#3a3a3a" stroke-width="0.6" />
<line x1="330.90" y1="116.80" x2="332.30" y2="116.80" stroke="#3a3a3a" stroke-width="0.6" />
<line x1="330.90" y1="112.30" x2="332.30" y2="112.30" stroke="#3a3a3a" stroke-width="0.6" />
<line x1="330.10" y1="107.80" x2="332.30" y2="107.80" stroke="#3a3a3a" stroke-width="0.6" />
<line x1="330.90" y1="103.30" x2="332.30" y2="103.30" stroke="#3a3a3a" stroke-width="0.6" />
<line x1="330.90" y1="98.80" x2="332.30" y2="98.80" stroke="#3a3a3a" stroke-width="0.6" />
<line x1="330.90" y1="94.30" x2="332.30" y2="94.30" stroke="#3a3a3a" stroke-width="0.6" />
<line x1="330.90" y1="89.80" x2="332.30" y2="89.80" stroke="#3a3a3a" stroke-width="0.6" />
<line x1="330.10" y1="85.30" x2="332.30" y2="85.30" stroke="#3a3a3a" stroke-width="0.6" />
<line x1="330.90" y1="80.80" x2="332.30" y2="80.80" stroke="#3a3a3a" stroke-width="0.6" />
<line x1="330.90" y1="76.30" x2="332.30" y2="76.30" stroke="#3a3a3a" stroke-width="0.6" />
<line x1="330.90" y1="71.80" x2="332.30" y2="71.80" stroke="#3a3a3a" stroke-width="0.6" />
<line x1="330.90" y1="67.30" x2="332.30" y2="67.30" stroke="#3a3a3a" stroke-width="0.6" />
<line x1="330.10" y1="62.80" x2="332.30" y2="62.80" stroke="#3a3a3a" stroke-width="0.6" />
<line x1="330.90" y1="58.30" x2="332.30" y2="58.30" stroke="#3a3a3a" stroke-width="0.6" />
<line x1="330.90" y1="53.80" x2="332.30" y2="53.80" stroke="#3a3a3a" stroke-width="0.6" />
<line x1="330.90" y1="49.30" x2="332.30" y2="49.30" stroke="#3a3a3a" stroke-width="0.6" />
<line x1="330.90" y1="44.80" x2="332.30" y2="44.80" stroke="#3a3a3a" stroke-width="0.6" />
<line x1="330.10" y1="40.30" x2="332.30" y2="40.30" stroke="#3a3a3a" stroke-width="0.6" />
<line x1="330.90" y1="35.80" x2="332.30" y2="35.80" stroke="#3a3a3a" stroke-width="0.6" />
<line x1="330.90" y1="31.30" x2="332.30" y2="31.30" stroke="#3a3a3a" stroke-width="0.6" />
<line x1="330.90" y1="26.80" x2="332.30" y2="26.80" stroke="#3a3a3a" stroke-width="0.6" />
<line x1="330.90" y1="22.30" x2="332.30" y2="22.30" stroke="#3a3a3a" stroke-width="0.6" />
<line x1="330.10" y1="17.80" x2="332.30" y2="17.80" stroke="#3a3a3a" stroke-width="0.6" />
<text x="327.60" y="155.20" font-size="6.6" text-anchor="end" fill="#1a1a1a" font-family="Liberation Sans" stroke="#1a1a1a" stroke-width="0.1" transform="translate(327.60 155.20) scale(0.9 1) translate(-327.60 -155.20)" >0</text>
<text x="327.60" y="132.70" font-size="6.6" text-anchor="end" fill="#1a1a1a" font-family="Liberation Sans" stroke="#1a1a1a" stroke-width="0.1" transform="translate(327.60 132.70) scale(0.9 1) translate(-327.60 -132.70)" >500</text>
<text x="327.60" y="110.20" font-size="6.6" text-anchor="end" fill="#1a1a1a" font-family="Liberation Sans" stroke="#1a1a1a" stroke-width="0.1" transform="translate(327.60 110.20) scale(0.9 1) translate(-327.60 -110.20)" >1000</text>
<text x="327.60" y="87.70" font-size="6.6" text-anchor="end" fill="#1a1a1a" font-family="Liberation Sans" stroke="#1a1a1a" stroke-width="0.1" transform="translate(327.60 87.70) scale(0.9 1) translate(-327.60 -87.70)" >1500</text>
<text x="327.60" y="65.20" font-size="6.6" text-anchor="end" fill="#1a1a1a" font-family="Liberation Sans" stroke="#1a1a1a" stroke-width="0.1" transform="translate(327.60 65.20) scale(0.9 1) translate(-327.60 -65.20)" >2000</text>
<text x="327.60" y="42.70" font-size="6.6" text-anchor="end" fill="#1a1a1a" font-family="Liberation Sans" stroke="#1a1a1a" stroke-width="0.1" transform="translate(327.60 42.70) scale(0.9 1) translate(-327.60 -42.70)" >2500</text>
<text x="327.60" y="20.20" font-size="6.6" text-anchor="end" fill="#1a1a1a" font-family="Liberation Sans" stroke="#1a1a1a" stroke-width="0.1" transform="translate(327.60 20.20) scale(0.9 1) translate(-327.60 -20.20)" >3000</text>
<line x1="518.60" y1="152.80" x2="520.80" y2="152.80" stroke="#3a3a3a" stroke-width="0.6" />
<line x1="518.60" y1="150.10" x2="520.00" y2="150.10" stroke="#3a3a3a" stroke-width="0.6" />
<line x1="518.60" y1="147.40" x2="520.00" y2="147.40" stroke="#3a3a3a" stroke-width="0.6" />
<line x1="518.60" y1="144.70" x2="520.00" y2="144.70" stroke="#3a3a3a" stroke-width="0.6" />
<line x1="518.60" y1="142.00" x2="520.00" y2="142.00" stroke="#3a3a3a" stroke-width="0.6" />
<line x1="518.60" y1="139.30" x2="520.80" y2="139.30" stroke="#3a3a3a" stroke-width="0.6" />
<line x1="518.60" y1="136.60" x2="520.00" y2="136.60" stroke="#3a3a3a" stroke-width="0.6" />
<line x1="518.60" y1="133.90" x2="520.00" y2="133.90" stroke="#3a3a3a" stroke-width="0.6" />
<line x1="518.60" y1="131.20" x2="520.00" y2="131.20" stroke="#3a3a3a" stroke-width="0.6" />
<line x1="518.60" y1="128.50" x2="520.00" y2="128.50" stroke="#3a3a3a" stroke-width="0.6" />
<line x1="518.60" y1="125.80" x2="520.80" y2="125.80" stroke="#3a3a3a" stroke-width="0.6" />
<line x1="518.60" y1="123.10" x2="520.00" y2="123.10" stroke="#3a3a3a" stroke-width="0.6" />
<line x1="518.60" y1="120.40" x2="520.00" y2="120.40" stroke="#3a3a3a" stroke-width="0.6" />
<line x1="518.60" y1="117.70" x2="520.00" y2="117.70" stroke="#3a3a3a" stroke-width="0.6" />
<line x1="518.60" y1="115.00" x2="520.00" y2="115.00" stroke="#3a3a3a" stroke-width="0.6" />
<line x1="518.60" y1="112.30" x2="520.80" y2="112.30" stroke="#3a3a3a" stroke-width="0.6" />
<line x1="518.60" y1="109.60" x2="520.00" y2="109.60" stroke="#3a3a3a" stroke-width="0.6" />
<line x1="518.60" y1="106.90" x2="520.00" y2="106.90" stroke="#3a3a3a" stroke-width="0.6" />
<line x1="518.60" y1="104.20" x2="520.00" y2="104.20" stroke="#3a3a3a" stroke-width="0.6" />
<line x1="518.60" y1="101.50" x2="520.00" y2="101.50" stroke="#3a3a3a" stroke-width="0.6" />
<line x1="518.60" y1="98.80" x2="520.80" y2="98.80" stroke="#3a3a3a" stroke-width="0.6" />
<line x1="518.60" y1="96.10" x2="520.00" y2="96.10" stroke="#3a3a3a" stroke-width="0.6" />
<line x1="518.60" y1="93.40" x2="520.00" y2="93.40" stroke="#3a3a3a" stroke-width="0.6" />
<line x1="518.60" y1="90.70" x2="520.00" y2="90.70" stroke="#3a3a3a" stroke-width="0.6" />
<line x1="518.60" y1="88.00" x2="520.00" y2="88.00" stroke="#3a3a3a" stroke-width="0.6" />
<line x1="518.60" y1="85.30" x2="520.80" y2="85.30" stroke="#3a3a3a" stroke-width="0.6" />
<line x1="518.60" y1="82.60" x2="520.00" y2="82.60" stroke="#3a3a3a" stroke-width="0.6" />
<line x1="518.60" y1="79.90" x2="520.00" y2="79.90" stroke="#3a3a3a" stroke-width="0.6" />
<line x1="518.60" y1="77.20" x2="520.00" y2="77.20" stroke="#3a3a3a" stroke-width="0.6" />
<line x1="518.60" y1="74.50" x2="520.00" y2="74.50" stroke="#3a3a3a" stroke-width="0.6" />
<line x1="518.60" y1="71.80" x2="520.80" y2="71.80" stroke="#3a3a3a" stroke-width="0.6" />
<line x1="518.60" y1="69.10" x2="520.00" y2="69.10" stroke="#3a3a3a" stroke-width="0.6" />
<line x1="518.60" y1="66.40" x2="520.00" y2="66.40" stroke="#3a3a3a" stroke-width="0.6" />
<line x1="518.60" y1="63.70" x2="520.00" y2="63.70" stroke="#3a3a3a" stroke-width="0.6" />
<line x1="518.60" y1="61.00" x2="520.00" y2="61.00" stroke="#3a3a3a" stroke-width="0.6" />
<line x1="518.60" y1="58.30" x2="520.80" y2="58.30" stroke="#3a3a3a" stroke-width="0.6" />
<line x1="518.60" y1="55.60" x2="520.00" y2="55.60" stroke="#3a3a3a" stroke-width="0.6" />
<line x1="518.60" y1="52.90" x2="520.00" y2="52.90" stroke="#3a3a3a" stroke-width="0.6" />
<line x1="518.60" y1="50.20" x2="520.00" y2="50.20" stroke="#3a3a3a" stroke-width="0.6" />
<line x1="518.60" y1="47.50" x2="520.00" y2="47.50" stroke="#3a3a3a" stroke-width="0.6" />
<line x1="518.60" y1="44.80" x2="520.80" y2="44.80" stroke="#3a3a3a" stroke-width="0.6" />
<line x1="518.60" y1="42.10" x2="520.00" y2="42.10" stroke="#3a3a3a" stroke-width="0.6" />
<line x1="518.60" y1="39.40" x2="520.00" y2="39.40" stroke="#3a3a3a" stroke-width="0.6" />
<line x1="518.60" y1="36.70" x2="520.00" y2="36.70" stroke="#3a3a3a" stroke-width="0.6" />
<line x1="518.60" y1="34.00" x2="520.00" y2="34.00" stroke="#3a3a3a" stroke-width="0.6" />
<line x1="518.60" y1="31.30" x2="520.80" y2="31.30" stroke="#3a3a3a" stroke-width="0.6" />
<line x1="518.60" y1="28.60" x2="520.00" y2="28.60" stroke="#3a3a3a" stroke-width="0.6" />
<line x1="518.60" y1="25.90" x2="520.00" y2="25.90" stroke="#3a3a3a" stroke-width="0.6" />
<line x1="518.60" y1="23.20" x2="520.00" y2="23.20" stroke="#3a3a3a" stroke-width="0.6" />
<line x1="518.60" y1="20.50" x2="520.00" y2="20.50" stroke="#3a3a3a" stroke-width="0.6" />
<line x1="518.60" y1="17.80" x2="520.80" y2="17.80" stroke="#3a3a3a" stroke-width="0.6" />
<text x="523.20" y="155.20" font-size="6.6" text-anchor="start" fill="#1a1a1a" font-family="Liberation Sans" stroke="#1a1a1a" stroke-width="0.1" transform="translate(523.20 155.20) scale(0.9 1) translate(-523.20 -155.20)" >0</text>
<text x="523.20" y="141.70" font-size="6.6" text-anchor="start" fill="#1a1a1a" font-family="Liberation Sans" stroke="#1a1a1a" stroke-width="0.1" transform="translate(523.20 141.70) scale(0.9 1) translate(-523.20 -141.70)" >0.02</text>
<text x="523.20" y="128.20" font-size="6.6" text-anchor="start" fill="#1a1a1a" font-family="Liberation Sans" stroke="#1a1a1a" stroke-width="0.1" transform="translate(523.20 128.20) scale(0.9 1) translate(-523.20 -128.20)" >0.04</text>
<text x="523.20" y="114.70" font-size="6.6" text-anchor="start" fill="#1a1a1a" font-family="Liberation Sans" stroke="#1a1a1a" stroke-width="0.1" transform="translate(523.20 114.70) scale(0.9 1) translate(-523.20 -114.70)" >0.06</text>
<text x="523.20" y="101.20" font-size="6.6" text-anchor="start" fill="#1a1a1a" font-family="Liberation Sans" stroke="#1a1a1a" stroke-width="0.1" transform="translate(523.20 101.20) scale(0.9 1) translate(-523.20 -101.20)" >0.08</text>
<text x="523.20" y="87.70" font-size="6.6" text-anchor="start" fill="#1a1a1a" font-family="Liberation Sans" stroke="#1a1a1a" stroke-width="0.1" transform="translate(523.20 87.70) scale(0.9 1) translate(-523.20 -87.70)" >0.1</text>
<text x="523.20" y="74.20" font-size="6.6" text-anchor="start" fill="#1a1a1a" font-family="Liberation Sans" stroke="#1a1a1a" stroke-width="0.1" transform="translate(523.20 74.20) scale(0.9 1) translate(-523.20 -74.20)" >0.12</text>
<text x="523.20" y="60.70" font-size="6.6" text-anchor="start" fill="#1a1a1a" font-family="Liberation Sans" stroke="#1a1a1a" stroke-width="0.1" transform="translate(523.20 60.70) scale(0.9 1) translate(-523.20 -60.70)" >0.14</text>
<text x="523.20" y="47.20" font-size="6.6" text-anchor="start" fill="#1a1a1a" font-family="Liberation Sans" stroke="#1a1a1a" stroke-width="0.1" transform="translate(523.20 47.20) scale(0.9 1) translate(-523.20 -47.20)" >0.16</text>
<text x="523.20" y="33.70" font-size="6.6" text-anchor="start" fill="#1a1a1a" font-family="Liberation Sans" stroke="#1a1a1a" stroke-width="0.1" transform="translate(523.20 33.70) scale(0.9 1) translate(-523.20 -33.70)" >0.18</text>
<text x="523.20" y="20.20" font-size="6.6" text-anchor="start" fill="#1a1a1a" font-family="Liberation Sans" stroke="#1a1a1a" stroke-width="0.1" transform="translate(523.20 20.20) scale(0.9 1) translate(-523.20 -20.20)" >0.2</text>
<line x1="332.30" y1="152.80" x2="332.30" y2="155.00" stroke="#3a3a3a" stroke-width="0.6" />
<text x="332.30" y="162.10" font-size="6.6" text-anchor="middle" fill="#1a1a1a" font-family="Liberation Sans" stroke="#1a1a1a" stroke-width="0.1" transform="translate(332.30 162.10) scale(0.9 1) translate(-332.30 -162.10)" >0.005</text>
<line x1="347.87" y1="152.80" x2="347.87" y2="154.20" stroke="#3a3a3a" stroke-width="0.6" />
<line x1="356.98" y1="152.80" x2="356.98" y2="154.20" stroke="#3a3a3a" stroke-width="0.6" />
<line x1="363.44" y1="152.80" x2="363.44" y2="154.20" stroke="#3a3a3a" stroke-width="0.6" />
<line x1="368.45" y1="152.80" x2="368.45" y2="154.20" stroke="#3a3a3a" stroke-width="0.6" />
<line x1="372.55" y1="152.80" x2="372.55" y2="154.20" stroke="#3a3a3a" stroke-width="0.6" />
<line x1="376.01" y1="152.80" x2="376.01" y2="154.20" stroke="#3a3a3a" stroke-width="0.6" />
<line x1="379.01" y1="152.80" x2="379.01" y2="154.20" stroke="#3a3a3a" stroke-width="0.6" />
<line x1="381.65" y1="152.80" x2="381.65" y2="154.20" stroke="#3a3a3a" stroke-width="0.6" />
<line x1="384.02" y1="152.80" x2="384.02" y2="155.00" stroke="#3a3a3a" stroke-width="0.6" />
<text x="384.02" y="162.10" font-size="6.6" text-anchor="middle" fill="#1a1a1a" font-family="Liberation Sans" stroke="#1a1a1a" stroke-width="0.1" transform="translate(384.02 162.10) scale(0.9 1) translate(-384.02 -162.10)" >0.05</text>
<line x1="399.59" y1="152.80" x2="399.59" y2="154.20" stroke="#3a3a3a" stroke-width="0.6" />
<line x1="408.70" y1="152.80" x2="408.70" y2="154.20" stroke="#3a3a3a" stroke-width="0.6" />
<line x1="415.16" y1="152.80" x2="415.16" y2="154.20" stroke="#3a3a3a" stroke-width="0.6" />
<line x1="420.17" y1="152.80" x2="420.17" y2="154.20" stroke="#3a3a3a" stroke-width="0.6" />
<line x1="424.27" y1="152.80" x2="424.27" y2="154.20" stroke="#3a3a3a" stroke-width="0.6" />
<line x1="427.73" y1="152.80" x2="427.73" y2="154.20" stroke="#3a3a3a" stroke-width="0.6" />
<line x1="430.73" y1="152.80" x2="430.73" y2="154.20" stroke="#3a3a3a" stroke-width="0.6" />
<line x1="433.37" y1="152.80" x2="433.37" y2="154.20" stroke="#3a3a3a" stroke-width="0.6" />
<line x1="435.74" y1="152.80" x2="435.74" y2="155.00" stroke="#3a3a3a" stroke-width="0.6" />
<text x="435.74" y="162.10" font-size="6.6" text-anchor="middle" fill="#1a1a1a" font-family="Liberation Sans" stroke="#1a1a1a" stroke-width="0.1" transform="translate(435.74 162.10) scale(0.9 1) translate(-435.74 -162.10)" >0.5</text>
<line x1="451.31" y1="152.80" x2="451.31" y2="154.20" stroke="#3a3a3a" stroke-width="0.6" />
<line x1="460.42" y1="152.80" x2="460.42" y2="154.20" stroke="#3a3a3a" stroke-width="0.6" />
<line x1="466.88" y1="152.80" x2="466.88" y2="154.20" stroke="#3a3a3a" stroke-width="0.6" />
<line x1="471.89" y1="152.80" x2="471.89" y2="154.20" stroke="#3a3a3a" stroke-width="0.6" />
<line x1="475.99" y1="152.80" x2="475.99" y2="154.20" stroke="#3a3a3a" stroke-width="0.6" />
<line x1="479.45" y1="152.80" x2="479.45" y2="154.20" stroke="#3a3a3a" stroke-width="0.6" />
<line x1="482.45" y1="152.80" x2="482.45" y2="154.20" stroke="#3a3a3a" stroke-width="0.6" />
<line x1="485.09" y1="152.80" x2="485.09" y2="154.20" stroke="#3a3a3a" stroke-width="0.6" />
<line x1="487.46" y1="152.80" x2="487.46" y2="155.00" stroke="#3a3a3a" stroke-width="0.6" />
<text x="487.46" y="162.10" font-size="6.6" text-anchor="middle" fill="#1a1a1a" font-family="Liberation Sans" stroke="#1a1a1a" stroke-width="0.1" transform="translate(487.46 162.10) scale(0.9 1) translate(-487.46 -162.10)" >5</text>
<line x1="503.03" y1="152.80" x2="503.03" y2="154.20" stroke="#3a3a3a" stroke-width="0.6" />
<line x1="512.14" y1="152.80" x2="512.14" y2="154.20" stroke="#3a3a3a" stroke-width="0.6" />
<line x1="518.60" y1="152.80" x2="518.60" y2="154.20" stroke="#3a3a3a" stroke-width="0.6" />
<path d="M335.20,91.30 C337.36,91.12 343.82,88.95 348.13,90.20 C352.44,91.45 356.75,96.43 361.06,98.80 C365.37,101.17 369.68,105.53 373.99,104.40 C378.30,103.27 382.61,96.15 386.92,92.00 C391.23,87.85 395.54,84.02 399.85,79.50 C404.16,74.98 408.47,69.52 412.78,64.90 C417.09,60.28 421.40,55.12 425.71,51.80 C430.02,48.48 434.33,46.12 438.64,45.00 C442.95,43.88 447.26,44.02 451.57,45.10 C455.88,46.18 460.19,48.95 464.50,51.50 C468.81,54.05 473.12,57.12 477.43,60.40 C481.74,63.68 486.05,67.65 490.36,71.20 C494.67,74.75 498.98,78.47 503.29,81.70 C507.60,84.93 514.07,89.12 516.22,90.60" fill="none" stroke="#c40c12" stroke-width="1.2" stroke-dasharray="2.2,1.3"/>
<rect x="333.55" y="89.70" width="3.3" height="3.2" rx="0.6" fill="#c40c12"/>
<rect x="346.48" y="88.60" width="3.3" height="3.2" rx="0.6" fill="#c40c12"/>
<rect x="359.41" y="97.20" width="3.3" height="3.2" rx="0.6" fill="#c40c12"/>
<rect x="372.34" y="102.80" width="3.3" height="3.2" rx="0.6" fill="#c40c12"/>
<rect x="385.27" y="90.40" width="3.3" height="3.2" rx="0.6" fill="#c40c12"/>
<rect x="398.20" y="77.90" width="3.3" height="3.2" rx="0.6" fill="#c40c12"/>
<rect x="411.13" y="63.30" width="3.3" height="3.2" rx="0.6" fill="#c40c12"/>
<rect x="424.06" y="50.20" width="3.3" height="3.2" rx="0.6" fill="#c40c12"/>
<rect x="436.99" y="43.40" width="3.3" height="3.2" rx="0.6" fill="#c40c12"/>
<rect x="449.92" y="43.50" width="3.3" height="3.2" rx="0.6" fill="#c40c12"/>
<rect x="462.85" y="49.90" width="3.3" height="3.2" rx="0.6" fill="#c40c12"/>
<rect x="475.78" y="58.80" width="3.3" height="3.2" rx="0.6" fill="#c40c12"/>
<rect x="488.71" y="69.60" width="3.3" height="3.2" rx="0.6" fill="#c40c12"/>
<rect x="501.64" y="80.10" width="3.3" height="3.2" rx="0.6" fill="#c40c12"/>
<rect x="514.57" y="89.00" width="3.3" height="3.2" rx="0.6" fill="#c40c12"/>
<path d="M335.20,76.50 C337.36,77.83 343.82,82.78 348.13,84.50 C352.44,86.22 356.75,86.20 361.06,86.80 C365.37,87.40 369.68,88.93 373.99,88.10 C378.30,87.27 382.61,85.08 386.92,81.80 C391.23,78.52 395.54,72.93 399.85,68.40 C404.16,63.87 408.47,58.78 412.78,54.60 C417.09,50.42 421.40,46.77 425.71,43.30 C430.02,39.83 434.33,35.72 438.64,33.80 C442.95,31.88 447.26,32.13 451.57,31.80 C455.88,31.47 460.19,31.20 464.50,31.80 C468.81,32.40 473.12,33.82 477.43,35.40 C481.74,36.98 486.05,38.35 490.36,41.30 C494.67,44.25 498.98,48.95 503.29,53.10 C507.60,57.25 514.07,64.02 516.22,66.20" fill="none" stroke="#111111" stroke-width="1.2" stroke-dasharray="2.2,1.3"/>
<path d="M335.20,74.35 L337.15,76.50 L335.20,78.65 L333.25,76.50 Z" fill="#111111"/>
<path d="M348.13,82.35 L350.08,84.50 L348.13,86.65 L346.18,84.50 Z" fill="#111111"/>
<path d="M361.06,84.65 L363.01,86.80 L361.06,88.95 L359.11,86.80 Z" fill="#111111"/>
<path d="M373.99,85.95 L375.94,88.10 L373.99,90.25 L372.04,88.10 Z" fill="#111111"/>
<path d="M386.92,79.65 L388.87,81.80 L386.92,83.95 L384.97,81.80 Z" fill="#111111"/>
<path d="M399.85,66.25 L401.80,68.40 L399.85,70.55 L397.90,68.40 Z" fill="#111111"/>
<path d="M412.78,52.45 L414.73,54.60 L412.78,56.75 L410.83,54.60 Z" fill="#111111"/>
<path d="M425.71,41.15 L427.66,43.30 L425.71,45.45 L423.76,43.30 Z" fill="#111111"/>
<path d="M438.64,31.65 L440.59,33.80 L438.64,35.95 L436.69,33.80 Z" fill="#111111"/>
<path d="M451.57,29.65 L453.52,31.80 L451.57,33.95 L449.62,31.80 Z" fill="#111111"/>
<path d="M464.50,29.65 L466.45,31.80 L464.50,33.95 L462.55,31.80 Z" fill="#111111"/>
<path d="M477.43,33.25 L479.38,35.40 L477.43,37.55 L475.48,35.40 Z" fill="#111111"/>
<path d="M490.36,39.15 L492.31,41.30 L490.36,43.45 L488.41,41.30 Z" fill="#111111"/>
<path d="M503.29,50.95 L505.24,53.10 L503.29,55.25 L501.34,53.10 Z" fill="#111111"/>
<path d="M516.22,64.05 L518.17,66.20 L516.22,68.35 L514.27,66.20 Z" fill="#111111"/>
<path d="M335.20,33.80 C337.36,34.62 343.82,38.22 348.13,38.70 C352.44,39.18 356.75,36.37 361.06,36.70 C365.37,37.03 369.68,39.12 373.99,40.70 C378.30,42.28 382.61,43.65 386.92,46.20 C391.23,48.75 395.54,52.83 399.85,56.00 C404.16,59.17 408.47,61.90 412.78,65.20 C417.09,68.50 421.40,72.55 425.71,75.80 C430.02,79.05 434.33,81.88 438.64,84.70 C442.95,87.52 447.26,90.27 451.57,92.70 C455.88,95.13 460.19,97.27 464.50,99.30 C468.81,101.33 473.12,103.03 477.43,104.90 C481.74,106.77 486.05,108.73 490.36,110.50 C494.67,112.27 498.98,113.97 503.29,115.50 C507.60,117.03 514.07,119.00 516.22,119.70" fill="none" stroke="#c40c12" stroke-width="1.2"/>
<rect x="333.55" y="32.20" width="3.3" height="3.2" rx="0.6" fill="#c40c12"/>
<rect x="346.48" y="37.10" width="3.3" height="3.2" rx="0.6" fill="#c40c12"/>
<rect x="359.41" y="35.10" width="3.3" height="3.2" rx="0.6" fill="#c40c12"/>
<rect x="372.34" y="39.10" width="3.3" height="3.2" rx="0.6" fill="#c40c12"/>
<rect x="385.27" y="44.60" width="3.3" height="3.2" rx="0.6" fill="#c40c12"/>
<rect x="398.20" y="54.40" width="3.3" height="3.2" rx="0.6" fill="#c40c12"/>
<rect x="411.13" y="63.60" width="3.3" height="3.2" rx="0.6" fill="#c40c12"/>
<rect x="424.06" y="74.20" width="3.3" height="3.2" rx="0.6" fill="#c40c12"/>
<rect x="436.99" y="83.10" width="3.3" height="3.2" rx="0.6" fill="#c40c12"/>
<rect x="449.92" y="91.10" width="3.3" height="3.2" rx="0.6" fill="#c40c12"/>
<rect x="462.85" y="97.70" width="3.3" height="3.2" rx="0.6" fill="#c40c12"/>
<rect x="475.78" y="103.30" width="3.3" height="3.2" rx="0.6" fill="#c40c12"/>
<rect x="488.71" y="108.90" width="3.3" height="3.2" rx="0.6" fill="#c40c12"/>
<rect x="501.64" y="113.90" width="3.3" height="3.2" rx="0.6" fill="#c40c12"/>
<rect x="514.57" y="118.10" width="3.3" height="3.2" rx="0.6" fill="#c40c12"/>
<path d="M335.20,54.90 C337.36,54.45 343.82,52.68 348.13,52.20 C352.44,51.72 356.75,51.78 361.06,52.00 C365.37,52.22 369.68,52.58 373.99,53.50 C378.30,54.42 382.61,55.73 386.92,57.50 C391.23,59.27 395.54,61.60 399.85,64.10 C404.16,66.60 408.47,69.68 412.78,72.50 C417.09,75.32 421.40,78.32 425.71,81.00 C430.02,83.68 434.33,86.00 438.64,88.60 C442.95,91.20 447.26,94.23 451.57,96.60 C455.88,98.97 460.19,100.75 464.50,102.80 C468.81,104.85 473.12,107.05 477.43,108.90 C481.74,110.75 486.05,112.25 490.36,113.90 C494.67,115.55 498.98,117.42 503.29,118.80 C507.60,120.18 514.07,121.63 516.22,122.20" fill="none" stroke="#111111" stroke-width="1.2"/>
<path d="M335.20,52.75 L337.15,54.90 L335.20,57.05 L333.25,54.90 Z" fill="#111111"/>
<path d="M348.13,50.05 L350.08,52.20 L348.13,54.35 L346.18,52.20 Z" fill="#111111"/>
<path d="M361.06,49.85 L363.01,52.00 L361.06,54.15 L359.11,52.00 Z" fill="#111111"/>
<path d="M373.99,51.35 L375.94,53.50 L373.99,55.65 L372.04,53.50 Z" fill="#111111"/>
<path d="M386.92,55.35 L388.87,57.50 L386.92,59.65 L384.97,57.50 Z" fill="#111111"/>
<path d="M399.85,61.95 L401.80,64.10 L399.85,66.25 L397.90,64.10 Z" fill="#111111"/>
<path d="M412.78,70.35 L414.73,72.50 L412.78,74.65 L410.83,72.50 Z" fill="#111111"/>
<path d="M425.71,78.85 L427.66,81.00 L425.71,83.15 L423.76,81.00 Z" fill="#111111"/>
<path d="M438.64,86.45 L440.59,88.60 L438.64,90.75 L436.69,88.60 Z" fill="#111111"/>
<path d="M451.57,94.45 L453.52,96.60 L451.57,98.75 L449.62,96.60 Z" fill="#111111"/>
<path d="M464.50,100.65 L466.45,102.80 L464.50,104.95 L462.55,102.80 Z" fill="#111111"/>
<path d="M477.43,106.75 L479.38,108.90 L477.43,111.05 L475.48,108.90 Z" fill="#111111"/>
<path d="M490.36,111.75 L492.31,113.90 L490.36,116.05 L488.41,113.90 Z" fill="#111111"/>
<path d="M503.29,116.65 L505.24,118.80 L503.29,120.95 L501.34,118.80 Z" fill="#111111"/>
<path d="M516.22,120.05 L518.17,122.20 L516.22,124.35 L514.27,122.20 Z" fill="#111111"/>
<text x="343.80" y="26.70" font-size="6.3" text-anchor="start" fill="#1a1a1a" font-family="Liberation Sans" stroke="#1a1a1a" stroke-width="0.1" textLength="37.60" lengthAdjust="spacingAndGlyphs" >Frequncy: 1Hz</text>
<text x="427.60" y="171.30" font-size="6.5" text-anchor="middle" fill="#1a1a1a" font-family="Liberation Sans" stroke="#1a1a1a" stroke-width="0.1" textLength="40.00" lengthAdjust="spacingAndGlyphs" >Amplitude(mm)</text>
<text x="541.90" y="85.30" font-size="6.2" text-anchor="middle" fill="#1a1a1a" font-family="Liberation Sans" stroke="#1a1a1a" stroke-width="0.1" textLength="30.40" lengthAdjust="spacingAndGlyphs" transform="rotate(-90 541.90 85.30)" >Loss factor</text>
<text x="287.10" y="17.60" font-size="18.5" text-anchor="start" fill="#111" font-family="Liberation Serif" stroke="#111" stroke-width="0.35" transform="translate(287.10 17.60) scale(1.16 1) translate(-287.10 -17.60)" >(b)</text>
<line x1="62.30" y1="194.60" x2="253.40" y2="194.60" stroke="#8a8a8a" stroke-width="1.5" />
<line x1="62.30" y1="193.90" x2="62.30" y2="330.90" stroke="#3a3a3a" stroke-width="1.1" />
<line x1="253.40" y1="193.90" x2="253.40" y2="330.90" stroke="#5a5a5a" stroke-width="1.0" />
<line x1="61.80" y1="330.40" x2="253.90" y2="330.40" stroke="#3a3a3a" stroke-width="1.1" />
<line x1="60.10" y1="330.40" x2="62.30" y2="330.40" stroke="#3a3a3a" stroke-width="0.6" />
<line x1="60.90" y1="326.52" x2="62.30" y2="326.52" stroke="#3a3a3a" stroke-width="0.6" />
<line x1="60.90" y1="322.64" x2="62.30" y2="322.64" stroke="#3a3a3a" stroke-width="0.6" />
<line x1="60.90" y1="318.76" x2="62.30" y2="318.76" stroke="#3a3a3a" stroke-width="0.6" />
<line x1="60.90" y1="314.88" x2="62.30" y2="314.88" stroke="#3a3a3a" stroke-width="0.6" />
<line x1="60.10" y1="311.00" x2="62.30" y2="311.00" stroke="#3a3a3a" stroke-width="0.6" />
<line x1="60.90" y1="307.12" x2="62.30" y2="307.12" stroke="#3a3a3a" stroke-width="0.6" />
<line x1="60.90" y1="303.24" x2="62.30" y2="303.24" stroke="#3a3a3a" stroke-width="0.6" />
<line x1="60.90" y1="299.36" x2="62.30" y2="299.36" stroke="#3a3a3a" stroke-width="0.6" />
<line x1="60.90" y1="295.48" x2="62.30" y2="295.48" stroke="#3a3a3a" stroke-width="0.6" />
<line x1="60.10" y1="291.60" x2="62.30" y2="291.60" stroke="#3a3a3a" stroke-width="0.6" />
<line x1="60.90" y1="287.72" x2="62.30" y2="287.72" stroke="#3a3a3a" stroke-width="0.6" />
<line x1="60.90" y1="283.84" x2="62.30" y2="283.84" stroke="#3a3a3a" stroke-width="0.6" />
<line x1="60.90" y1="279.96" x2="62.30" y2="279.96" stroke="#3a3a3a" stroke-width="0.6" />
<line x1="60.90" y1="276.08" x2="62.30" y2="276.08" stroke="#3a3a3a" stroke-width="0.6" />
<line x1="60.10" y1="272.20" x2="62.30" y2="272.20" stroke="#3a3a3a" stroke-width="0.6" />
<line x1="60.90" y1="268.32" x2="62.30" y2="268.32" stroke="#3a3a3a" stroke-width="0.6" />
<line x1="60.90" y1="264.44" x2="62.30" y2="264.44" stroke="#3a3a3a" stroke-width="0.6" />
<line x1="60.90" y1="260.56" x2="62.30" y2="260.56" stroke="#3a3a3a" stroke-width="0.6" />
<line x1="60.90" y1="256.68" x2="62.30" y2="256.68" stroke="#3a3a3a" stroke-width="0.6" />
<line x1="60.10" y1="252.80" x2="62.30" y2="252.80" stroke="#3a3a3a" stroke-width="0.6" />
<line x1="60.90" y1="248.92" x2="62.30" y2="248.92" stroke="#3a3a3a" stroke-width="0.6" />
<line x1="60.90" y1="245.04" x2="62.30" y2="245.04" stroke="#3a3a3a" stroke-width="0.6" />
<line x1="60.90" y1="241.16" x2="62.30" y2="241.16" stroke="#3a3a3a" stroke-width="0.6" />
<line x1="60.90" y1="237.28" x2="62.30" y2="237.28" stroke="#3a3a3a" stroke-width="0.6" />
<line x1="60.10" y1="233.40" x2="62.30" y2="233.40" stroke="#3a3a3a" stroke-width="0.6" />
<line x1="60.90" y1="229.52" x2="62.30" y2="229.52" stroke="#3a3a3a" stroke-width="0.6" />
<line x1="60.90" y1="225.64" x2="62.30" y2="225.64" stroke="#3a3a3a" stroke-width="0.6" />
<line x1="60.90" y1="221.76" x2="62.30" y2="221.76" stroke="#3a3a3a" stroke-width="0.6" />
<line x1="60.90" y1="217.88" x2="62.30" y2="217.88" stroke="#3a3a3a" stroke-width="0.6" />
<line x1="60.10" y1="214.00" x2="62.30" y2="214.00" stroke="#3a3a3a" stroke-width="0.6" />
<line x1="60.90" y1="210.12" x2="62.30" y2="210.12" stroke="#3a3a3a" stroke-width="0.6" />
<line x1="60.90" y1="206.24" x2="62.30" y2="206.24" stroke="#3a3a3a" stroke-width="0.6" />
<line x1="60.90" y1="202.36" x2="62.30" y2="202.36" stroke="#3a3a3a" stroke-width="0.6" />
<line x1="60.90" y1="198.48" x2="62.30" y2="198.48" stroke="#3a3a3a" stroke-width="0.6" />
<line x1="60.10" y1="194.60" x2="62.30" y2="194.60" stroke="#3a3a3a" stroke-width="0.6" />
<text x="56.50" y="332.80" font-size="6.6" text-anchor="end" fill="#1a1a1a" font-family="Liberation Sans" stroke="#1a1a1a" stroke-width="0.1" transform="translate(56.50 332.80) scale(0.9 1) translate(-56.50 -332.80)" >0</text>
<text x="56.50" y="313.40" font-size="6.6" text-anchor="end" fill="#1a1a1a" font-family="Liberation Sans" stroke="#1a1a1a" stroke-width="0.1" transform="translate(56.50 313.40) scale(0.9 1) translate(-56.50 -313.40)" >500</text>
<text x="56.50" y="294.00" font-size="6.6" text-anchor="end" fill="#1a1a1a" font-family="Liberation Sans" stroke="#1a1a1a" stroke-width="0.1" transform="translate(56.50 294.00) scale(0.9 1) translate(-56.50 -294.00)" >1000</text>
<text x="56.50" y="274.60" font-size="6.6" text-anchor="end" fill="#1a1a1a" font-family="Liberation Sans" stroke="#1a1a1a" stroke-width="0.1" transform="translate(56.50 274.60) scale(0.9 1) translate(-56.50 -274.60)" >1500</text>
<text x="56.50" y="255.20" font-size="6.6" text-anchor="end" fill="#1a1a1a" font-family="Liberation Sans" stroke="#1a1a1a" stroke-width="0.1" transform="translate(56.50 255.20) scale(0.9 1) translate(-56.50 -255.20)" >2000</text>
<text x="56.50" y="235.80" font-size="6.6" text-anchor="end" fill="#1a1a1a" font-family="Liberation Sans" stroke="#1a1a1a" stroke-width="0.1" transform="translate(56.50 235.80) scale(0.9 1) translate(-56.50 -235.80)" >2500</text>
<text x="56.50" y="216.40" font-size="6.6" text-anchor="end" fill="#1a1a1a" font-family="Liberation Sans" stroke="#1a1a1a" stroke-width="0.1" transform="translate(56.50 216.40) scale(0.9 1) translate(-56.50 -216.40)" >3000</text>
<text x="56.50" y="197.00" font-size="6.6" text-anchor="end" fill="#1a1a1a" font-family="Liberation Sans" stroke="#1a1a1a" stroke-width="0.1" transform="translate(56.50 197.00) scale(0.9 1) translate(-56.50 -197.00)" >3500</text>
<line x1="253.40" y1="330.40" x2="255.60" y2="330.40" stroke="#3a3a3a" stroke-width="0.6" />
<line x1="253.40" y1="327.68" x2="254.80" y2="327.68" stroke="#3a3a3a" stroke-width="0.6" />
<line x1="253.40" y1="324.97" x2="254.80" y2="324.97" stroke="#3a3a3a" stroke-width="0.6" />
<line x1="253.40" y1="322.25" x2="254.80" y2="322.25" stroke="#3a3a3a" stroke-width="0.6" />
<line x1="253.40" y1="319.54" x2="254.80" y2="319.54" stroke="#3a3a3a" stroke-width="0.6" />
<line x1="253.40" y1="316.82" x2="255.60" y2="316.82" stroke="#3a3a3a" stroke-width="0.6" />
<line x1="253.40" y1="314.10" x2="254.80" y2="314.10" stroke="#3a3a3a" stroke-width="0.6" />
<line x1="253.40" y1="311.39" x2="254.80" y2="311.39" stroke="#3a3a3a" stroke-width="0.6" />
<line x1="253.40" y1="308.67" x2="254.80" y2="308.67" stroke="#3a3a3a" stroke-width="0.6" />
<line x1="253.40" y1="305.96" x2="254.80" y2="305.96" stroke="#3a3a3a" stroke-width="0.6" />
<line x1="253.40" y1="303.24" x2="255.60" y2="303.24" stroke="#3a3a3a" stroke-width="0.6" />
<line x1="253.40" y1="300.52" x2="254.80" y2="300.52" stroke="#3a3a3a" stroke-width="0.6" />
<line x1="253.40" y1="297.81" x2="254.80" y2="297.81" stroke="#3a3a3a" stroke-width="0.6" />
<line x1="253.40" y1="295.09" x2="254.80" y2="295.09" stroke="#3a3a3a" stroke-width="0.6" />
<line x1="253.40" y1="292.38" x2="254.80" y2="292.38" stroke="#3a3a3a" stroke-width="0.6" />
<line x1="253.40" y1="289.66" x2="255.60" y2="289.66" stroke="#3a3a3a" stroke-width="0.6" />
<line x1="253.40" y1="286.94" x2="254.80" y2="286.94" stroke="#3a3a3a" stroke-width="0.6" />
<line x1="253.40" y1="284.23" x2="254.80" y2="284.23" stroke="#3a3a3a" stroke-width="0.6" />
<line x1="253.40" y1="281.51" x2="254.80" y2="281.51" stroke="#3a3a3a" stroke-width="0.6" />
<line x1="253.40" y1="278.80" x2="254.80" y2="278.80" stroke="#3a3a3a" stroke-width="0.6" />
<line x1="253.40" y1="276.08" x2="255.60" y2="276.08" stroke="#3a3a3a" stroke-width="0.6" />
<line x1="253.40" y1="273.36" x2="254.80" y2="273.36" stroke="#3a3a3a" stroke-width="0.6" />
<line x1="253.40" y1="270.65" x2="254.80" y2="270.65" stroke="#3a3a3a" stroke-width="0.6" />
<line x1="253.40" y1="267.93" x2="254.80" y2="267.93" stroke="#3a3a3a" stroke-width="0.6" />
<line x1="253.40" y1="265.22" x2="254.80" y2="265.22" stroke="#3a3a3a" stroke-width="0.6" />
<line x1="253.40" y1="262.50" x2="255.60" y2="262.50" stroke="#3a3a3a" stroke-width="0.6" />
<line x1="253.40" y1="259.78" x2="254.80" y2="259.78" stroke="#3a3a3a" stroke-width="0.6" />
<line x1="253.40" y1="257.07" x2="254.80" y2="257.07" stroke="#3a3a3a" stroke-width="0.6" />
<line x1="253.40" y1="254.35" x2="254.80" y2="254.35" stroke="#3a3a3a" stroke-width="0.6" />
<line x1="253.40" y1="251.64" x2="254.80" y2="251.64" stroke="#3a3a3a" stroke-width="0.6" />
<line x1="253.40" y1="248.92" x2="255.60" y2="248.92" stroke="#3a3a3a" stroke-width="0.6" />
<line x1="253.40" y1="246.20" x2="254.80" y2="246.20" stroke="#3a3a3a" stroke-width="0.6" />
<line x1="253.40" y1="243.49" x2="254.80" y2="243.49" stroke="#3a3a3a" stroke-width="0.6" />
<line x1="253.40" y1="240.77" x2="254.80" y2="240.77" stroke="#3a3a3a" stroke-width="0.6" />
<line x1="253.40" y1="238.06" x2="254.80" y2="238.06" stroke="#3a3a3a" stroke-width="0.6" />
<line x1="253.40" y1="235.34" x2="255.60" y2="235.34" stroke="#3a3a3a" stroke-width="0.6" />
<line x1="253.40" y1="232.62" x2="254.80" y2="232.62" stroke="#3a3a3a" stroke-width="0.6" />
<line x1="253.40" y1="229.91" x2="254.80" y2="229.91" stroke="#3a3a3a" stroke-width="0.6" />
<line x1="253.40" y1="227.19" x2="254.80" y2="227.19" stroke="#3a3a3a" stroke-width="0.6" />
<line x1="253.40" y1="224.48" x2="254.80" y2="224.48" stroke="#3a3a3a" stroke-width="0.6" />
<line x1="253.40" y1="221.76" x2="255.60" y2="221.76" stroke="#3a3a3a" stroke-width="0.6" />
<line x1="253.40" y1="219.04" x2="254.80" y2="219.04" stroke="#3a3a3a" stroke-width="0.6" />
<line x1="253.40" y1="216.33" x2="254.80" y2="216.33" stroke="#3a3a3a" stroke-width="0.6" />
<line x1="253.40" y1="213.61" x2="254.80" y2="213.61" stroke="#3a3a3a" stroke-width="0.6" />
<line x1="253.40" y1="210.90" x2="254.80" y2="210.90" stroke="#3a3a3a" stroke-width="0.6" />
<line x1="253.40" y1="208.18" x2="255.60" y2="208.18" stroke="#3a3a3a" stroke-width="0.6" />
<line x1="253.40" y1="205.46" x2="254.80" y2="205.46" stroke="#3a3a3a" stroke-width="0.6" />
<line x1="253.40" y1="202.75" x2="254.80" y2="202.75" stroke="#3a3a3a" stroke-width="0.6" />
<line x1="253.40" y1="200.03" x2="254.80" y2="200.03" stroke="#3a3a3a" stroke-width="0.6" />
<line x1="253.40" y1="197.32" x2="254.80" y2="197.32" stroke="#3a3a3a" stroke-width="0.6" />
<line x1="253.40" y1="194.60" x2="255.60" y2="194.60" stroke="#3a3a3a" stroke-width="0.6" />
<text x="258.20" y="332.80" font-size="6.6" text-anchor="start" fill="#1a1a1a" font-family="Liberation Sans" stroke="#1a1a1a" stroke-width="0.1" transform="translate(258.20 332.80) scale(0.9 1) translate(-258.20 -332.80)" >0</text>
<text x="258.20" y="319.22" font-size="6.6" text-anchor="start" fill="#1a1a1a" font-family="Liberation Sans" stroke="#1a1a1a" stroke-width="0.1" transform="translate(258.20 319.22) scale(0.9 1) translate(-258.20 -319.22)" >0.02</text>
<text x="258.20" y="305.64" font-size="6.6" text-anchor="start" fill="#1a1a1a" font-family="Liberation Sans" stroke="#1a1a1a" stroke-width="0.1" transform="translate(258.20 305.64) scale(0.9 1) translate(-258.20 -305.64)" >0.04</text>
<text x="258.20" y="292.06" font-size="6.6" text-anchor="start" fill="#1a1a1a" font-family="Liberation Sans" stroke="#1a1a1a" stroke-width="0.1" transform="translate(258.20 292.06) scale(0.9 1) translate(-258.20 -292.06)" >0.06</text>
<text x="258.20" y="278.48" font-size="6.6" text-anchor="start" fill="#1a1a1a" font-family="Liberation Sans" stroke="#1a1a1a" stroke-width="0.1" transform="translate(258.20 278.48) scale(0.9 1) translate(-258.20 -278.48)" >0.08</text>
<text x="258.20" y="264.90" font-size="6.6" text-anchor="start" fill="#1a1a1a" font-family="Liberation Sans" stroke="#1a1a1a" stroke-width="0.1" transform="translate(258.20 264.90) scale(0.9 1) translate(-258.20 -264.90)" >0.1</text>
<text x="258.20" y="251.32" font-size="6.6" text-anchor="start" fill="#1a1a1a" font-family="Liberation Sans" stroke="#1a1a1a" stroke-width="0.1" transform="translate(258.20 251.32) scale(0.9 1) translate(-258.20 -251.32)" >0.12</text>
<text x="258.20" y="237.74" font-size="6.6" text-anchor="start" fill="#1a1a1a" font-family="Liberation Sans" stroke="#1a1a1a" stroke-width="0.1" transform="translate(258.20 237.74) scale(0.9 1) translate(-258.20 -237.74)" >0.14</text>
<text x="258.20" y="224.16" font-size="6.6" text-anchor="start" fill="#1a1a1a" font-family="Liberation Sans" stroke="#1a1a1a" stroke-width="0.1" transform="translate(258.20 224.16) scale(0.9 1) translate(-258.20 -224.16)" >0.16</text>
<text x="258.20" y="210.58" font-size="6.6" text-anchor="start" fill="#1a1a1a" font-family="Liberation Sans" stroke="#1a1a1a" stroke-width="0.1" transform="translate(258.20 210.58) scale(0.9 1) translate(-258.20 -210.58)" >0.18</text>
<text x="258.20" y="197.00" font-size="6.6" text-anchor="start" fill="#1a1a1a" font-family="Liberation Sans" stroke="#1a1a1a" stroke-width="0.1" transform="translate(258.20 197.00) scale(0.9 1) translate(-258.20 -197.00)" >0.2</text>
<line x1="62.30" y1="330.40" x2="62.30" y2="332.60" stroke="#3a3a3a" stroke-width="0.6" />
<text x="62.30" y="339.70" font-size="6.6" text-anchor="middle" fill="#1a1a1a" font-family="Liberation Sans" stroke="#1a1a1a" stroke-width="0.1" transform="translate(62.30 339.70) scale(0.9 1) translate(-62.30 -339.70)" >0.005</text>
<line x1="76.68" y1="330.40" x2="76.68" y2="331.80" stroke="#3a3a3a" stroke-width="0.6" />
<line x1="85.09" y1="330.40" x2="85.09" y2="331.80" stroke="#3a3a3a" stroke-width="0.6" />
<line x1="91.06" y1="330.40" x2="91.06" y2="331.80" stroke="#3a3a3a" stroke-width="0.6" />
<line x1="95.69" y1="330.40" x2="95.69" y2="331.80" stroke="#3a3a3a" stroke-width="0.6" />
<line x1="99.48" y1="330.40" x2="99.48" y2="331.80" stroke="#3a3a3a" stroke-width="0.6" />
<line x1="102.67" y1="330.40" x2="102.67" y2="331.80" stroke="#3a3a3a" stroke-width="0.6" />
<line x1="105.45" y1="330.40" x2="105.45" y2="331.80" stroke="#3a3a3a" stroke-width="0.6" />
<line x1="107.89" y1="330.40" x2="107.89" y2="331.80" stroke="#3a3a3a" stroke-width="0.6" />
<line x1="110.08" y1="330.40" x2="110.08" y2="332.60" stroke="#3a3a3a" stroke-width="0.6" />
<text x="110.08" y="339.70" font-size="6.6" text-anchor="middle" fill="#1a1a1a" font-family="Liberation Sans" stroke="#1a1a1a" stroke-width="0.1" transform="translate(110.08 339.70) scale(0.9 1) translate(-110.08 -339.70)" >0.05</text>
<line x1="124.46" y1="330.40" x2="124.46" y2="331.80" stroke="#3a3a3a" stroke-width="0.6" />
<line x1="132.87" y1="330.40" x2="132.87" y2="331.80" stroke="#3a3a3a" stroke-width="0.6" />
<line x1="138.84" y1="330.40" x2="138.84" y2="331.80" stroke="#3a3a3a" stroke-width="0.6" />
<line x1="143.47" y1="330.40" x2="143.47" y2="331.80" stroke="#3a3a3a" stroke-width="0.6" />
<line x1="147.25" y1="330.40" x2="147.25" y2="331.80" stroke="#3a3a3a" stroke-width="0.6" />
<line x1="150.45" y1="330.40" x2="150.45" y2="331.80" stroke="#3a3a3a" stroke-width="0.6" />
<line x1="153.22" y1="330.40" x2="153.22" y2="331.80" stroke="#3a3a3a" stroke-width="0.6" />
<line x1="155.66" y1="330.40" x2="155.66" y2="331.80" stroke="#3a3a3a" stroke-width="0.6" />
<line x1="157.85" y1="330.40" x2="157.85" y2="332.60" stroke="#3a3a3a" stroke-width="0.6" />
<text x="157.85" y="339.70" font-size="6.6" text-anchor="middle" fill="#1a1a1a" font-family="Liberation Sans" stroke="#1a1a1a" stroke-width="0.1" transform="translate(157.85 339.70) scale(0.9 1) translate(-157.85 -339.70)" >0.5</text>
<line x1="172.23" y1="330.40" x2="172.23" y2="331.80" stroke="#3a3a3a" stroke-width="0.6" />
<line x1="180.64" y1="330.40" x2="180.64" y2="331.80" stroke="#3a3a3a" stroke-width="0.6" />
<line x1="186.61" y1="330.40" x2="186.61" y2="331.80" stroke="#3a3a3a" stroke-width="0.6" />
<line x1="191.24" y1="330.40" x2="191.24" y2="331.80" stroke="#3a3a3a" stroke-width="0.6" />
<line x1="195.03" y1="330.40" x2="195.03" y2="331.80" stroke="#3a3a3a" stroke-width="0.6" />
<line x1="198.22" y1="330.40" x2="198.22" y2="331.80" stroke="#3a3a3a" stroke-width="0.6" />
<line x1="201.00" y1="330.40" x2="201.00" y2="331.80" stroke="#3a3a3a" stroke-width="0.6" />
<line x1="203.44" y1="330.40" x2="203.44" y2="331.80" stroke="#3a3a3a" stroke-width="0.6" />
<line x1="205.62" y1="330.40" x2="205.62" y2="332.60" stroke="#3a3a3a" stroke-width="0.6" />
<text x="205.62" y="339.70" font-size="6.6" text-anchor="middle" fill="#1a1a1a" font-family="Liberation Sans" stroke="#1a1a1a" stroke-width="0.1" transform="translate(205.62 339.70) scale(0.9 1) translate(-205.62 -339.70)" >5</text>
<line x1="220.01" y1="330.40" x2="220.01" y2="331.80" stroke="#3a3a3a" stroke-width="0.6" />
<line x1="228.42" y1="330.40" x2="228.42" y2="331.80" stroke="#3a3a3a" stroke-width="0.6" />
<line x1="234.39" y1="330.40" x2="234.39" y2="331.80" stroke="#3a3a3a" stroke-width="0.6" />
<line x1="239.02" y1="330.40" x2="239.02" y2="331.80" stroke="#3a3a3a" stroke-width="0.6" />
<line x1="242.80" y1="330.40" x2="242.80" y2="331.80" stroke="#3a3a3a" stroke-width="0.6" />
<line x1="246.00" y1="330.40" x2="246.00" y2="331.80" stroke="#3a3a3a" stroke-width="0.6" />
<line x1="248.77" y1="330.40" x2="248.77" y2="331.80" stroke="#3a3a3a" stroke-width="0.6" />
<line x1="251.21" y1="330.40" x2="251.21" y2="331.80" stroke="#3a3a3a" stroke-width="0.6" />
<line x1="253.40" y1="330.40" x2="253.40" y2="332.60" stroke="#3a3a3a" stroke-width="0.6" />
<text x="253.40" y="339.70" font-size="6.6" text-anchor="middle" fill="#1a1a1a" font-family="Liberation Sans" stroke="#1a1a1a" stroke-width="0.1" transform="translate(253.40 339.70) scale(0.9 1) translate(-253.40 -339.70)" >50</text>
<polyline points="76.40,274.50 88.37,277.60 100.34,291.80 112.31,285.50 124.28,289.10 136.25,289.60 148.22,290.50 160.19,284.80 172.16,290.60 184.13,288.90 196.10,286.80 208.07,284.50 220.04,283.50 232.01,282.40 243.98,276.70" fill="none" stroke="#0c66c4" stroke-width="1.2" stroke-dasharray="2.2,1.3" stroke-linejoin="round"/>
<circle cx="76.40" cy="274.50" r="1.75" fill="#0c66c4"/>
<circle cx="88.37" cy="277.60" r="1.75" fill="#0c66c4"/>
<circle cx="100.34" cy="291.80" r="1.75" fill="#0c66c4"/>
<circle cx="112.31" cy="285.50" r="1.75" fill="#0c66c4"/>
<circle cx="124.28" cy="289.10" r="1.75" fill="#0c66c4"/>
<circle cx="136.25" cy="289.60" r="1.75" fill="#0c66c4"/>
<circle cx="148.22" cy="290.50" r="1.75" fill="#0c66c4"/>
<circle cx="160.19" cy="284.80" r="1.75" fill="#0c66c4"/>
<circle cx="172.16" cy="290.60" r="1.75" fill="#0c66c4"/>
<circle cx="184.13" cy="288.90" r="1.75" fill="#0c66c4"/>
<circle cx="196.10" cy="286.80" r="1.75" fill="#0c66c4"/>
<circle cx="208.07" cy="284.50" r="1.75" fill="#0c66c4"/>
<circle cx="220.04" cy="283.50" r="1.75" fill="#0c66c4"/>
<circle cx="232.01" cy="282.40" r="1.75" fill="#0c66c4"/>
<circle cx="243.98" cy="276.70" r="1.75" fill="#0c66c4"/>
<polyline points="76.40,250.90 88.37,254.90 100.34,257.80 112.31,259.50 124.28,261.50 136.25,261.50 148.22,262.70 160.19,262.60 172.16,262.50 184.13,262.10 196.10,261.40 208.07,258.70 220.04,256.20 232.01,252.00 243.98,249.90" fill="none" stroke="#c40c12" stroke-width="1.2" stroke-dasharray="2.2,1.3" stroke-linejoin="round"/>
<rect x="74.75" y="249.30" width="3.3" height="3.2" rx="0.6" fill="#c40c12"/>
<rect x="86.72" y="253.30" width="3.3" height="3.2" rx="0.6" fill="#c40c12"/>
<rect x="98.69" y="256.20" width="3.3" height="3.2" rx="0.6" fill="#c40c12"/>
<rect x="110.66" y="257.90" width="3.3" height="3.2" rx="0.6" fill="#c40c12"/>
<rect x="122.63" y="259.90" width="3.3" height="3.2" rx="0.6" fill="#c40c12"/>
<rect x="134.60" y="259.90" width="3.3" height="3.2" rx="0.6" fill="#c40c12"/>
<rect x="146.57" y="261.10" width="3.3" height="3.2" rx="0.6" fill="#c40c12"/>
<rect x="158.54" y="261.00" width="3.3" height="3.2" rx="0.6" fill="#c40c12"/>
<rect x="170.51" y="260.90" width="3.3" height="3.2" rx="0.6" fill="#c40c12"/>
<rect x="182.48" y="260.50" width="3.3" height="3.2" rx="0.6" fill="#c40c12"/>
<rect x="194.45" y="259.80" width="3.3" height="3.2" rx="0.6" fill="#c40c12"/>
<rect x="206.42" y="257.10" width="3.3" height="3.2" rx="0.6" fill="#c40c12"/>
<rect x="218.39" y="254.60" width="3.3" height="3.2" rx="0.6" fill="#c40c12"/>
<rect x="230.36" y="250.40" width="3.3" height="3.2" rx="0.6" fill="#c40c12"/>
<rect x="242.33" y="248.30" width="3.3" height="3.2" rx="0.6" fill="#c40c12"/>
<polyline points="76.40,231.90 88.37,232.50 100.34,232.90 112.31,233.30 124.28,232.90 136.25,232.10 148.22,231.50 160.19,230.30 172.16,229.20 184.13,226.80 196.10,225.20 208.07,222.60 220.04,218.10 232.01,214.10 243.98,209.80" fill="none" stroke="#111111" stroke-width="1.2" stroke-dasharray="2.2,1.3" stroke-linejoin="round"/>
<path d="M76.40,229.75 L78.35,231.90 L76.40,234.05 L74.45,231.90 Z" fill="#111111"/>
<path d="M88.37,230.35 L90.32,232.50 L88.37,234.65 L86.42,232.50 Z" fill="#111111"/>
<path d="M100.34,230.75 L102.29,232.90 L100.34,235.05 L98.39,232.90 Z" fill="#111111"/>
<path d="M112.31,231.15 L114.26,233.30 L112.31,235.45 L110.36,233.30 Z" fill="#111111"/>
<path d="M124.28,230.75 L126.23,232.90 L124.28,235.05 L122.33,232.90 Z" fill="#111111"/>
<path d="M136.25,229.95 L138.20,232.10 L136.25,234.25 L134.30,232.10 Z" fill="#111111"/>
<path d="M148.22,229.35 L150.17,231.50 L148.22,233.65 L146.27,231.50 Z" fill="#111111"/>
<path d="M160.19,228.15 L162.14,230.30 L160.19,232.45 L158.24,230.30 Z" fill="#111111"/>
<path d="M172.16,227.05 L174.11,229.20 L172.16,231.35 L170.21,229.20 Z" fill="#111111"/>
<path d="M184.13,224.65 L186.08,226.80 L184.13,228.95 L182.18,226.80 Z" fill="#111111"/>
<path d="M196.10,223.05 L198.05,225.20 L196.10,227.35 L194.15,225.20 Z" fill="#111111"/>
<path d="M208.07,220.45 L210.02,222.60 L208.07,224.75 L206.12,222.60 Z" fill="#111111"/>
<path d="M220.04,215.95 L221.99,218.10 L220.04,220.25 L218.09,218.10 Z" fill="#111111"/>
<path d="M232.01,211.95 L233.96,214.10 L232.01,216.25 L230.06,214.10 Z" fill="#111111"/>
<path d="M243.98,207.65 L245.93,209.80 L243.98,211.95 L242.03,209.80 Z" fill="#111111"/>
<polyline points="76.40,244.90 88.37,241.80 100.34,239.00 112.31,236.40 124.28,233.90 136.25,231.50 148.22,229.50 160.19,228.10 172.16,224.00 184.13,222.00 196.10,220.30 208.07,216.30 220.04,213.30 232.01,210.20 243.98,206.80" fill="none" stroke="#0c66c4" stroke-width="1.2" stroke-linejoin="round"/>
<circle cx="76.40" cy="244.90" r="1.75" fill="#0c66c4"/>
<circle cx="88.37" cy="241.80" r="1.75" fill="#0c66c4"/>
<circle cx="100.34" cy="239.00" r="1.75" fill="#0c66c4"/>
<circle cx="112.31" cy="236.40" r="1.75" fill="#0c66c4"/>
<circle cx="124.28" cy="233.90" r="1.75" fill="#0c66c4"/>
<circle cx="136.25" cy="231.50" r="1.75" fill="#0c66c4"/>
<circle cx="148.22" cy="229.50" r="1.75" fill="#0c66c4"/>
<circle cx="160.19" cy="228.10" r="1.75" fill="#0c66c4"/>
<circle cx="172.16" cy="224.00" r="1.75" fill="#0c66c4"/>
<circle cx="184.13" cy="222.00" r="1.75" fill="#0c66c4"/>
<circle cx="196.10" cy="220.30" r="1.75" fill="#0c66c4"/>
<circle cx="208.07" cy="216.30" r="1.75" fill="#0c66c4"/>
<circle cx="220.04" cy="213.30" r="1.75" fill="#0c66c4"/>
<circle cx="232.01" cy="210.20" r="1.75" fill="#0c66c4"/>
<circle cx="243.98" cy="206.80" r="1.75" fill="#0c66c4"/>
<polyline points="76.40,256.00 88.37,254.50 100.34,252.70 112.31,251.30 124.28,249.60 136.25,248.20 148.22,246.70 160.19,245.00 172.16,243.00 184.13,240.20 196.10,238.10 208.07,235.50 220.04,232.30 232.01,230.90 243.98,227.20" fill="none" stroke="#c40c12" stroke-width="1.2" stroke-linejoin="round"/>
<rect x="74.75" y="254.40" width="3.3" height="3.2" rx="0.6" fill="#c40c12"/>
<rect x="86.72" y="252.90" width="3.3" height="3.2" rx="0.6" fill="#c40c12"/>
<rect x="98.69" y="251.10" width="3.3" height="3.2" rx="0.6" fill="#c40c12"/>
<rect x="110.66" y="249.70" width="3.3" height="3.2" rx="0.6" fill="#c40c12"/>
<rect x="122.63" y="248.00" width="3.3" height="3.2" rx="0.6" fill="#c40c12"/>
<rect x="134.60" y="246.60" width="3.3" height="3.2" rx="0.6" fill="#c40c12"/>
<rect x="146.57" y="245.10" width="3.3" height="3.2" rx="0.6" fill="#c40c12"/>
<rect x="158.54" y="243.40" width="3.3" height="3.2" rx="0.6" fill="#c40c12"/>
<rect x="170.51" y="241.40" width="3.3" height="3.2" rx="0.6" fill="#c40c12"/>
<rect x="182.48" y="238.60" width="3.3" height="3.2" rx="0.6" fill="#c40c12"/>
<rect x="194.45" y="236.50" width="3.3" height="3.2" rx="0.6" fill="#c40c12"/>
<rect x="206.42" y="233.90" width="3.3" height="3.2" rx="0.6" fill="#c40c12"/>
<rect x="218.39" y="230.70" width="3.3" height="3.2" rx="0.6" fill="#c40c12"/>
<rect x="230.36" y="229.30" width="3.3" height="3.2" rx="0.6" fill="#c40c12"/>
<rect x="242.33" y="225.60" width="3.3" height="3.2" rx="0.6" fill="#c40c12"/>
<polyline points="76.40,282.70 88.37,282.50 100.34,281.80 112.31,281.50 124.28,280.70 136.25,280.00 148.22,279.10 160.19,278.50 172.16,277.80 184.13,276.30 196.10,275.30 208.07,274.00 220.04,272.50 232.01,271.50 243.98,270.00" fill="none" stroke="#111111" stroke-width="1.2" stroke-linejoin="round"/>
<path d="M76.40,280.55 L78.35,282.70 L76.40,284.85 L74.45,282.70 Z" fill="#111111"/>
<path d="M88.37,280.35 L90.32,282.50 L88.37,284.65 L86.42,282.50 Z" fill="#111111"/>
<path d="M100.34,279.65 L102.29,281.80 L100.34,283.95 L98.39,281.80 Z" fill="#111111"/>
<path d="M112.31,279.35 L114.26,281.50 L112.31,283.65 L110.36,281.50 Z" fill="#111111"/>
<path d="M124.28,278.55 L126.23,280.70 L124.28,282.85 L122.33,280.70 Z" fill="#111111"/>
<path d="M136.25,277.85 L138.20,280.00 L136.25,282.15 L134.30,280.00 Z" fill="#111111"/>
<path d="M148.22,276.95 L150.17,279.10 L148.22,281.25 L146.27,279.10 Z" fill="#111111"/>
<path d="M160.19,276.35 L162.14,278.50 L160.19,280.65 L158.24,278.50 Z" fill="#111111"/>
<path d="M172.16,275.65 L174.11,277.80 L172.16,279.95 L170.21,277.80 Z" fill="#111111"/>
<path d="M184.13,274.15 L186.08,276.30 L184.13,278.45 L182.18,276.30 Z" fill="#111111"/>
<path d="M196.10,273.15 L198.05,275.30 L196.10,277.45 L194.15,275.30 Z" fill="#111111"/>
<path d="M208.07,271.85 L210.02,274.00 L208.07,276.15 L206.12,274.00 Z" fill="#111111"/>
<path d="M220.04,270.35 L221.99,272.50 L220.04,274.65 L218.09,272.50 Z" fill="#111111"/>
<path d="M232.01,269.35 L233.96,271.50 L232.01,273.65 L230.06,271.50 Z" fill="#111111"/>
<path d="M243.98,267.85 L245.93,270.00 L243.98,272.15 L242.03,270.00 Z" fill="#111111"/>
<text x="73.40" y="203.50" font-size="6.3" text-anchor="start" fill="#1a1a1a" font-family="Liberation Sans" stroke="#1a1a1a" stroke-width="0.1" textLength="83.40" lengthAdjust="spacingAndGlyphs" >Transversal compression: 0mm</text>
<line x1="70.50" y1="198.00" x2="70.50" y2="199.40" stroke="#999" stroke-width="0.5" />
<text x="159.00" y="347.40" font-size="6.5" text-anchor="middle" fill="#1a1a1a" font-family="Liberation Sans" stroke="#1a1a1a" stroke-width="0.1" textLength="39.40" lengthAdjust="spacingAndGlyphs" >Frequency(Hz)</text>
<text x="40.20" y="262.40" font-size="6.2" text-anchor="middle" fill="#1a1a1a" font-family="Liberation Sans" stroke="#1a1a1a" stroke-width="0.1" textLength="69.40" lengthAdjust="spacingAndGlyphs" transform="rotate(-90 40.20 262.40)" >Dynamic stiffness(N/mm)</text>
<text x="277.60" y="262.20" font-size="6.2" text-anchor="middle" fill="#1a1a1a" font-family="Liberation Sans" stroke="#1a1a1a" stroke-width="0.1" textLength="30.20" lengthAdjust="spacingAndGlyphs" transform="rotate(-90 277.60 262.20)" >Loss factor</text>
<text x="3.20" y="194.00" font-size="18.5" text-anchor="start" fill="#111" font-family="Liberation Serif" stroke="#111" stroke-width="0.35" transform="translate(3.20 194.00) scale(1.16 1) translate(-3.20 -194.00)" >(c)</text>
<line x1="342.30" y1="196.50" x2="519.90" y2="196.50" stroke="#8a8a8a" stroke-width="1.5" />
<line x1="332.20" y1="195.80" x2="332.20" y2="330.30" stroke="#3a3a3a" stroke-width="1.1" />
<line x1="519.90" y1="195.80" x2="519.90" y2="330.30" stroke="#5a5a5a" stroke-width="1.0" />
<line x1="331.70" y1="329.80" x2="520.40" y2="329.80" stroke="#3a3a3a" stroke-width="1.1" />
<line x1="330.00" y1="329.80" x2="332.20" y2="329.80" stroke="#3a3a3a" stroke-width="0.6" />
<line x1="330.80" y1="325.36" x2="332.20" y2="325.36" stroke="#3a3a3a" stroke-width="0.6" />
<line x1="330.80" y1="320.91" x2="332.20" y2="320.91" stroke="#3a3a3a" stroke-width="0.6" />
<line x1="330.80" y1="316.47" x2="332.20" y2="316.47" stroke="#3a3a3a" stroke-width="0.6" />
<line x1="330.80" y1="312.03" x2="332.20" y2="312.03" stroke="#3a3a3a" stroke-width="0.6" />
<line x1="330.00" y1="307.58" x2="332.20" y2="307.58" stroke="#3a3a3a" stroke-width="0.6" />
<line x1="330.80" y1="303.14" x2="332.20" y2="303.14" stroke="#3a3a3a" stroke-width="0.6" />
<line x1="330.80" y1="298.70" x2="332.20" y2="298.70" stroke="#3a3a3a" stroke-width="0.6" />
<line x1="330.80" y1="294.25" x2="332.20" y2="294.25" stroke="#3a3a3a" stroke-width="0.6" />
<line x1="330.80" y1="289.81" x2="332.20" y2="289.81" stroke="#3a3a3a" stroke-width="0.6" />
<line x1="330.00" y1="285.37" x2="332.20" y2="285.37" stroke="#3a3a3a" stroke-width="0.6" />
<line x1="330.80" y1="280.92" x2="332.20" y2="280.92" stroke="#3a3a3a" stroke-width="0.6" />
<line x1="330.80" y1="276.48" x2="332.20" y2="276.48" stroke="#3a3a3a" stroke-width="0.6" />
<line x1="330.80" y1="272.04" x2="332.20" y2="272.04" stroke="#3a3a3a" stroke-width="0.6" />
<line x1="330.80" y1="267.59" x2="332.20" y2="267.59" stroke="#3a3a3a" stroke-width="0.6" />
<line x1="330.00" y1="263.15" x2="332.20" y2="263.15" stroke="#3a3a3a" stroke-width="0.6" />
<line x1="330.80" y1="258.71" x2="332.20" y2="258.71" stroke="#3a3a3a" stroke-width="0.6" />
<line x1="330.80" y1="254.26" x2="332.20" y2="254.26" stroke="#3a3a3a" stroke-width="0.6" />
<line x1="330.80" y1="249.82" x2="332.20" y2="249.82" stroke="#3a3a3a" stroke-width="0.6" />
<line x1="330.80" y1="245.38" x2="332.20" y2="245.38" stroke="#3a3a3a" stroke-width="0.6" />
<line x1="330.00" y1="240.93" x2="332.20" y2="240.93" stroke="#3a3a3a" stroke-width="0.6" />
<line x1="330.80" y1="236.49" x2="332.20" y2="236.49" stroke="#3a3a3a" stroke-width="0.6" />
<line x1="330.80" y1="232.05" x2="332.20" y2="232.05" stroke="#3a3a3a" stroke-width="0.6" />
<line x1="330.80" y1="227.60" x2="332.20" y2="227.60" stroke="#3a3a3a" stroke-width="0.6" />
<line x1="330.80" y1="223.16" x2="332.20" y2="223.16" stroke="#3a3a3a" stroke-width="0.6" />
<line x1="330.00" y1="218.72" x2="332.20" y2="218.72" stroke="#3a3a3a" stroke-width="0.6" />
<line x1="330.80" y1="214.27" x2="332.20" y2="214.27" stroke="#3a3a3a" stroke-width="0.6" />
<line x1="330.80" y1="209.83" x2="332.20" y2="209.83" stroke="#3a3a3a" stroke-width="0.6" />
<line x1="330.80" y1="205.39" x2="332.20" y2="205.39" stroke="#3a3a3a" stroke-width="0.6" />
<line x1="330.80" y1="200.94" x2="332.20" y2="200.94" stroke="#3a3a3a" stroke-width="0.6" />
<line x1="330.00" y1="196.50" x2="332.20" y2="196.50" stroke="#3a3a3a" stroke-width="0.6" />
<text x="327.30" y="332.20" font-size="6.6" text-anchor="end" fill="#1a1a1a" font-family="Liberation Sans" stroke="#1a1a1a" stroke-width="0.1" transform="translate(327.30 332.20) scale(0.9 1) translate(-327.30 -332.20)" >500</text>
<text x="327.30" y="309.98" font-size="6.6" text-anchor="end" fill="#1a1a1a" font-family="Liberation Sans" stroke="#1a1a1a" stroke-width="0.1" transform="translate(327.30 309.98) scale(0.9 1) translate(-327.30 -309.98)" >700</text>
<text x="327.30" y="287.77" font-size="6.6" text-anchor="end" fill="#1a1a1a" font-family="Liberation Sans" stroke="#1a1a1a" stroke-width="0.1" transform="translate(327.30 287.77) scale(0.9 1) translate(-327.30 -287.77)" >900</text>
<text x="327.30" y="265.55" font-size="6.6" text-anchor="end" fill="#1a1a1a" font-family="Liberation Sans" stroke="#1a1a1a" stroke-width="0.1" transform="translate(327.30 265.55) scale(0.9 1) translate(-327.30 -265.55)" >1100</text>
<text x="327.30" y="243.33" font-size="6.6" text-anchor="end" fill="#1a1a1a" font-family="Liberation Sans" stroke="#1a1a1a" stroke-width="0.1" transform="translate(327.30 243.33) scale(0.9 1) translate(-327.30 -243.33)" >1300</text>
<text x="327.30" y="221.12" font-size="6.6" text-anchor="end" fill="#1a1a1a" font-family="Liberation Sans" stroke="#1a1a1a" stroke-width="0.1" transform="translate(327.30 221.12) scale(0.9 1) translate(-327.30 -221.12)" >1500</text>
<text x="327.30" y="198.90" font-size="6.6" text-anchor="end" fill="#1a1a1a" font-family="Liberation Sans" stroke="#1a1a1a" stroke-width="0.1" transform="translate(327.30 198.90) scale(0.9 1) translate(-327.30 -198.90)" >1700</text>
<line x1="519.90" y1="329.80" x2="522.10" y2="329.80" stroke="#3a3a3a" stroke-width="0.6" />
<line x1="519.90" y1="326.47" x2="521.30" y2="326.47" stroke="#3a3a3a" stroke-width="0.6" />
<line x1="519.90" y1="323.13" x2="521.30" y2="323.13" stroke="#3a3a3a" stroke-width="0.6" />
<line x1="519.90" y1="319.80" x2="521.30" y2="319.80" stroke="#3a3a3a" stroke-width="0.6" />
<line x1="519.90" y1="316.47" x2="521.30" y2="316.47" stroke="#3a3a3a" stroke-width="0.6" />
<line x1="519.90" y1="313.14" x2="522.10" y2="313.14" stroke="#3a3a3a" stroke-width="0.6" />
<line x1="519.90" y1="309.81" x2="521.30" y2="309.81" stroke="#3a3a3a" stroke-width="0.6" />
<line x1="519.90" y1="306.47" x2="521.30" y2="306.47" stroke="#3a3a3a" stroke-width="0.6" />
<line x1="519.90" y1="303.14" x2="521.30" y2="303.14" stroke="#3a3a3a" stroke-width="0.6" />
<line x1="519.90" y1="299.81" x2="521.30" y2="299.81" stroke="#3a3a3a" stroke-width="0.6" />
<line x1="519.90" y1="296.48" x2="522.10" y2="296.48" stroke="#3a3a3a" stroke-width="0.6" />
<line x1="519.90" y1="293.14" x2="521.30" y2="293.14" stroke="#3a3a3a" stroke-width="0.6" />
<line x1="519.90" y1="289.81" x2="521.30" y2="289.81" stroke="#3a3a3a" stroke-width="0.6" />
<line x1="519.90" y1="286.48" x2="521.30" y2="286.48" stroke="#3a3a3a" stroke-width="0.6" />
<line x1="519.90" y1="283.14" x2="521.30" y2="283.14" stroke="#3a3a3a" stroke-width="0.6" />
<line x1="519.90" y1="279.81" x2="522.10" y2="279.81" stroke="#3a3a3a" stroke-width="0.6" />
<line x1="519.90" y1="276.48" x2="521.30" y2="276.48" stroke="#3a3a3a" stroke-width="0.6" />
<line x1="519.90" y1="273.15" x2="521.30" y2="273.15" stroke="#3a3a3a" stroke-width="0.6" />
<line x1="519.90" y1="269.81" x2="521.30" y2="269.81" stroke="#3a3a3a" stroke-width="0.6" />
<line x1="519.90" y1="266.48" x2="521.30" y2="266.48" stroke="#3a3a3a" stroke-width="0.6" />
<line x1="519.90" y1="263.15" x2="522.10" y2="263.15" stroke="#3a3a3a" stroke-width="0.6" />
<line x1="519.90" y1="259.82" x2="521.30" y2="259.82" stroke="#3a3a3a" stroke-width="0.6" />
<line x1="519.90" y1="256.49" x2="521.30" y2="256.49" stroke="#3a3a3a" stroke-width="0.6" />
<line x1="519.90" y1="253.15" x2="521.30" y2="253.15" stroke="#3a3a3a" stroke-width="0.6" />
<line x1="519.90" y1="249.82" x2="521.30" y2="249.82" stroke="#3a3a3a" stroke-width="0.6" />
<line x1="519.90" y1="246.49" x2="522.10" y2="246.49" stroke="#3a3a3a" stroke-width="0.6" />
<line x1="519.90" y1="243.16" x2="521.30" y2="243.16" stroke="#3a3a3a" stroke-width="0.6" />
<line x1="519.90" y1="239.82" x2="521.30" y2="239.82" stroke="#3a3a3a" stroke-width="0.6" />
<line x1="519.90" y1="236.49" x2="521.30" y2="236.49" stroke="#3a3a3a" stroke-width="0.6" />
<line x1="519.90" y1="233.16" x2="521.30" y2="233.16" stroke="#3a3a3a" stroke-width="0.6" />
<line x1="519.90" y1="229.83" x2="522.10" y2="229.83" stroke="#3a3a3a" stroke-width="0.6" />
<line x1="519.90" y1="226.49" x2="521.30" y2="226.49" stroke="#3a3a3a" stroke-width="0.6" />
<line x1="519.90" y1="223.16" x2="521.30" y2="223.16" stroke="#3a3a3a" stroke-width="0.6" />
<line x1="519.90" y1="219.83" x2="521.30" y2="219.83" stroke="#3a3a3a" stroke-width="0.6" />
<line x1="519.90" y1="216.50" x2="521.30" y2="216.50" stroke="#3a3a3a" stroke-width="0.6" />
<line x1="519.90" y1="213.16" x2="522.10" y2="213.16" stroke="#3a3a3a" stroke-width="0.6" />
<line x1="519.90" y1="209.83" x2="521.30" y2="209.83" stroke="#3a3a3a" stroke-width="0.6" />
<line x1="519.90" y1="206.50" x2="521.30" y2="206.50" stroke="#3a3a3a" stroke-width="0.6" />
<line x1="519.90" y1="203.17" x2="521.30" y2="203.17" stroke="#3a3a3a" stroke-width="0.6" />
<line x1="519.90" y1="199.83" x2="521.30" y2="199.83" stroke="#3a3a3a" stroke-width="0.6" />
<line x1="519.90" y1="196.50" x2="522.10" y2="196.50" stroke="#3a3a3a" stroke-width="0.6" />
<text x="525.30" y="332.20" font-size="6.6" text-anchor="start" fill="#1a1a1a" font-family="Liberation Sans" stroke="#1a1a1a" stroke-width="0.1" transform="translate(525.30 332.20) scale(0.9 1) translate(-525.30 -332.20)" >0</text>
<text x="525.30" y="315.54" font-size="6.6" text-anchor="start" fill="#1a1a1a" font-family="Liberation Sans" stroke="#1a1a1a" stroke-width="0.1" transform="translate(525.30 315.54) scale(0.9 1) translate(-525.30 -315.54)" >0.05</text>
<text x="525.30" y="298.88" font-size="6.6" text-anchor="start" fill="#1a1a1a" font-family="Liberation Sans" stroke="#1a1a1a" stroke-width="0.1" transform="translate(525.30 298.88) scale(0.9 1) translate(-525.30 -298.88)" >0.1</text>
<text x="525.30" y="282.21" font-size="6.6" text-anchor="start" fill="#1a1a1a" font-family="Liberation Sans" stroke="#1a1a1a" stroke-width="0.1" transform="translate(525.30 282.21) scale(0.9 1) translate(-525.30 -282.21)" >0.15</text>
<text x="525.30" y="265.55" font-size="6.6" text-anchor="start" fill="#1a1a1a" font-family="Liberation Sans" stroke="#1a1a1a" stroke-width="0.1" transform="translate(525.30 265.55) scale(0.9 1) translate(-525.30 -265.55)" >0.2</text>
<text x="525.30" y="248.89" font-size="6.6" text-anchor="start" fill="#1a1a1a" font-family="Liberation Sans" stroke="#1a1a1a" stroke-width="0.1" transform="translate(525.30 248.89) scale(0.9 1) translate(-525.30 -248.89)" >0.25</text>
<text x="525.30" y="232.22" font-size="6.6" text-anchor="start" fill="#1a1a1a" font-family="Liberation Sans" stroke="#1a1a1a" stroke-width="0.1" transform="translate(525.30 232.22) scale(0.9 1) translate(-525.30 -232.22)" >0.3</text>
<text x="525.30" y="215.56" font-size="6.6" text-anchor="start" fill="#1a1a1a" font-family="Liberation Sans" stroke="#1a1a1a" stroke-width="0.1" transform="translate(525.30 215.56) scale(0.9 1) translate(-525.30 -215.56)" >0.35</text>
<text x="525.30" y="198.90" font-size="6.6" text-anchor="start" fill="#1a1a1a" font-family="Liberation Sans" stroke="#1a1a1a" stroke-width="0.1" transform="translate(525.30 198.90) scale(0.9 1) translate(-525.30 -198.90)" >0.4</text>
<line x1="332.20" y1="329.80" x2="332.20" y2="332.00" stroke="#3a3a3a" stroke-width="0.6" />
<text x="332.20" y="339.10" font-size="6.6" text-anchor="middle" fill="#1a1a1a" font-family="Liberation Sans" stroke="#1a1a1a" stroke-width="0.1" transform="translate(332.20 339.10) scale(0.9 1) translate(-332.20 -339.10)" >0.005</text>
<line x1="346.33" y1="329.80" x2="346.33" y2="331.20" stroke="#3a3a3a" stroke-width="0.6" />
<line x1="354.59" y1="329.80" x2="354.59" y2="331.20" stroke="#3a3a3a" stroke-width="0.6" />
<line x1="360.45" y1="329.80" x2="360.45" y2="331.20" stroke="#3a3a3a" stroke-width="0.6" />
<line x1="365.00" y1="329.80" x2="365.00" y2="331.20" stroke="#3a3a3a" stroke-width="0.6" />
<line x1="368.71" y1="329.80" x2="368.71" y2="331.20" stroke="#3a3a3a" stroke-width="0.6" />
<line x1="371.86" y1="329.80" x2="371.86" y2="331.20" stroke="#3a3a3a" stroke-width="0.6" />
<line x1="374.58" y1="329.80" x2="374.58" y2="331.20" stroke="#3a3a3a" stroke-width="0.6" />
<line x1="376.98" y1="329.80" x2="376.98" y2="331.20" stroke="#3a3a3a" stroke-width="0.6" />
<line x1="379.12" y1="329.80" x2="379.12" y2="332.00" stroke="#3a3a3a" stroke-width="0.6" />
<text x="379.12" y="339.10" font-size="6.6" text-anchor="middle" fill="#1a1a1a" font-family="Liberation Sans" stroke="#1a1a1a" stroke-width="0.1" transform="translate(379.12 339.10) scale(0.9 1) translate(-379.12 -339.10)" >0.05</text>
<line x1="393.25" y1="329.80" x2="393.25" y2="331.20" stroke="#3a3a3a" stroke-width="0.6" />
<line x1="401.51" y1="329.80" x2="401.51" y2="331.20" stroke="#3a3a3a" stroke-width="0.6" />
<line x1="407.38" y1="329.80" x2="407.38" y2="331.20" stroke="#3a3a3a" stroke-width="0.6" />
<line x1="411.92" y1="329.80" x2="411.92" y2="331.20" stroke="#3a3a3a" stroke-width="0.6" />
<line x1="415.64" y1="329.80" x2="415.64" y2="331.20" stroke="#3a3a3a" stroke-width="0.6" />
<line x1="418.78" y1="329.80" x2="418.78" y2="331.20" stroke="#3a3a3a" stroke-width="0.6" />
<line x1="421.50" y1="329.80" x2="421.50" y2="331.20" stroke="#3a3a3a" stroke-width="0.6" />
<line x1="423.90" y1="329.80" x2="423.90" y2="331.20" stroke="#3a3a3a" stroke-width="0.6" />
<line x1="426.05" y1="329.80" x2="426.05" y2="332.00" stroke="#3a3a3a" stroke-width="0.6" />
<text x="426.05" y="339.10" font-size="6.6" text-anchor="middle" fill="#1a1a1a" font-family="Liberation Sans" stroke="#1a1a1a" stroke-width="0.1" transform="translate(426.05 339.10) scale(0.9 1) translate(-426.05 -339.10)" >0.5</text>
<line x1="440.18" y1="329.80" x2="440.18" y2="331.20" stroke="#3a3a3a" stroke-width="0.6" />
<line x1="448.44" y1="329.80" x2="448.44" y2="331.20" stroke="#3a3a3a" stroke-width="0.6" />
<line x1="454.30" y1="329.80" x2="454.30" y2="331.20" stroke="#3a3a3a" stroke-width="0.6" />
<line x1="458.85" y1="329.80" x2="458.85" y2="331.20" stroke="#3a3a3a" stroke-width="0.6" />
<line x1="462.56" y1="329.80" x2="462.56" y2="331.20" stroke="#3a3a3a" stroke-width="0.6" />
<line x1="465.71" y1="329.80" x2="465.71" y2="331.20" stroke="#3a3a3a" stroke-width="0.6" />
<line x1="468.43" y1="329.80" x2="468.43" y2="331.20" stroke="#3a3a3a" stroke-width="0.6" />
<line x1="470.83" y1="329.80" x2="470.83" y2="331.20" stroke="#3a3a3a" stroke-width="0.6" />
<line x1="472.97" y1="329.80" x2="472.97" y2="332.00" stroke="#3a3a3a" stroke-width="0.6" />
<text x="472.97" y="339.10" font-size="6.6" text-anchor="middle" fill="#1a1a1a" font-family="Liberation Sans" stroke="#1a1a1a" stroke-width="0.1" transform="translate(472.97 339.10) scale(0.9 1) translate(-472.97 -339.10)" >5</text>
<line x1="487.10" y1="329.80" x2="487.10" y2="331.20" stroke="#3a3a3a" stroke-width="0.6" />
<line x1="495.36" y1="329.80" x2="495.36" y2="331.20" stroke="#3a3a3a" stroke-width="0.6" />
<line x1="501.23" y1="329.80" x2="501.23" y2="331.20" stroke="#3a3a3a" stroke-width="0.6" />
<line x1="505.77" y1="329.80" x2="505.77" y2="331.20" stroke="#3a3a3a" stroke-width="0.6" />
<line x1="509.49" y1="329.80" x2="509.49" y2="331.20" stroke="#3a3a3a" stroke-width="0.6" />
<line x1="512.63" y1="329.80" x2="512.63" y2="331.20" stroke="#3a3a3a" stroke-width="0.6" />
<line x1="515.35" y1="329.80" x2="515.35" y2="331.20" stroke="#3a3a3a" stroke-width="0.6" />
<line x1="517.75" y1="329.80" x2="517.75" y2="331.20" stroke="#3a3a3a" stroke-width="0.6" />
<line x1="519.90" y1="329.80" x2="519.90" y2="332.00" stroke="#3a3a3a" stroke-width="0.6" />
<text x="519.90" y="339.10" font-size="6.6" text-anchor="middle" fill="#1a1a1a" font-family="Liberation Sans" stroke="#1a1a1a" stroke-width="0.1" transform="translate(519.90 339.10) scale(0.9 1) translate(-519.90 -339.10)" >50</text>
<polyline points="346.20,281.00 357.94,281.70 369.68,281.90 381.42,282.30 393.16,281.90 404.90,281.70 416.64,281.00 428.38,280.50 440.12,279.50 451.86,278.60 463.60,277.60 475.34,276.50 487.08,274.50 498.82,272.50 510.56,270.00" fill="none" stroke="#c40c12" stroke-width="1.2" stroke-dasharray="2.2,1.3" stroke-linejoin="round"/>
<rect x="344.55" y="279.40" width="3.3" height="3.2" rx="0.6" fill="#c40c12"/>
<rect x="356.29" y="280.10" width="3.3" height="3.2" rx="0.6" fill="#c40c12"/>
<rect x="368.03" y="280.30" width="3.3" height="3.2" rx="0.6" fill="#c40c12"/>
<rect x="379.77" y="280.70" width="3.3" height="3.2" rx="0.6" fill="#c40c12"/>
<rect x="391.51" y="280.30" width="3.3" height="3.2" rx="0.6" fill="#c40c12"/>
<rect x="403.25" y="280.10" width="3.3" height="3.2" rx="0.6" fill="#c40c12"/>
<rect x="414.99" y="279.40" width="3.3" height="3.2" rx="0.6" fill="#c40c12"/>
<rect x="426.73" y="278.90" width="3.3" height="3.2" rx="0.6" fill="#c40c12"/>
<rect x="438.47" y="277.90" width="3.3" height="3.2" rx="0.6" fill="#c40c12"/>
<rect x="450.21" y="277.00" width="3.3" height="3.2" rx="0.6" fill="#c40c12"/>
<rect x="461.95" y="276.00" width="3.3" height="3.2" rx="0.6" fill="#c40c12"/>
<rect x="473.69" y="274.90" width="3.3" height="3.2" rx="0.6" fill="#c40c12"/>
<rect x="485.43" y="272.90" width="3.3" height="3.2" rx="0.6" fill="#c40c12"/>
<rect x="497.17" y="270.90" width="3.3" height="3.2" rx="0.6" fill="#c40c12"/>
<rect x="508.91" y="268.40" width="3.3" height="3.2" rx="0.6" fill="#c40c12"/>
<polyline points="346.20,276.50 357.94,277.70 369.68,278.30 381.42,278.60 393.16,278.60 404.90,278.30 416.64,277.70 428.38,277.10 440.12,276.20 451.86,274.90 463.60,273.90 475.34,271.50 487.08,269.70 498.82,267.80" fill="none" stroke="#111111" stroke-width="1.2" stroke-dasharray="2.2,1.3" stroke-linejoin="round"/>
<path d="M346.20,274.35 L348.15,276.50 L346.20,278.65 L344.25,276.50 Z" fill="#111111"/>
<path d="M357.94,275.55 L359.89,277.70 L357.94,279.85 L355.99,277.70 Z" fill="#111111"/>
<path d="M369.68,276.15 L371.63,278.30 L369.68,280.45 L367.73,278.30 Z" fill="#111111"/>
<path d="M381.42,276.45 L383.37,278.60 L381.42,280.75 L379.47,278.60 Z" fill="#111111"/>
<path d="M393.16,276.45 L395.11,278.60 L393.16,280.75 L391.21,278.60 Z" fill="#111111"/>
<path d="M404.90,276.15 L406.85,278.30 L404.90,280.45 L402.95,278.30 Z" fill="#111111"/>
<path d="M416.64,275.55 L418.59,277.70 L416.64,279.85 L414.69,277.70 Z" fill="#111111"/>
<path d="M428.38,274.95 L430.33,277.10 L428.38,279.25 L426.43,277.10 Z" fill="#111111"/>
<path d="M440.12,274.05 L442.07,276.20 L440.12,278.35 L438.17,276.20 Z" fill="#111111"/>
<path d="M451.86,272.75 L453.81,274.90 L451.86,277.05 L449.91,274.90 Z" fill="#111111"/>
<path d="M463.60,271.75 L465.55,273.90 L463.60,276.05 L461.65,273.90 Z" fill="#111111"/>
<path d="M475.34,269.35 L477.29,271.50 L475.34,273.65 L473.39,271.50 Z" fill="#111111"/>
<path d="M487.08,267.55 L489.03,269.70 L487.08,271.85 L485.13,269.70 Z" fill="#111111"/>
<path d="M498.82,265.65 L500.77,267.80 L498.82,269.95 L496.87,267.80 Z" fill="#111111"/>
<polyline points="346.20,248.40 357.94,247.00 369.68,245.80 381.42,244.20 393.16,242.60 404.90,240.80 416.64,238.90 428.38,236.60 440.12,234.00 451.86,230.40 463.60,227.60 475.34,223.30 487.08,219.10 498.82,216.40 510.56,211.50" fill="none" stroke="#c40c12" stroke-width="1.2" stroke-linejoin="round"/>
<rect x="344.55" y="246.80" width="3.3" height="3.2" rx="0.6" fill="#c40c12"/>
<rect x="356.29" y="245.40" width="3.3" height="3.2" rx="0.6" fill="#c40c12"/>
<rect x="368.03" y="244.20" width="3.3" height="3.2" rx="0.6" fill="#c40c12"/>
<rect x="379.77" y="242.60" width="3.3" height="3.2" rx="0.6" fill="#c40c12"/>
<rect x="391.51" y="241.00" width="3.3" height="3.2" rx="0.6" fill="#c40c12"/>
<rect x="403.25" y="239.20" width="3.3" height="3.2" rx="0.6" fill="#c40c12"/>
<rect x="414.99" y="237.30" width="3.3" height="3.2" rx="0.6" fill="#c40c12"/>
<rect x="426.73" y="235.00" width="3.3" height="3.2" rx="0.6" fill="#c40c12"/>
<rect x="438.47" y="232.40" width="3.3" height="3.2" rx="0.6" fill="#c40c12"/>
<rect x="450.21" y="228.80" width="3.3" height="3.2" rx="0.6" fill="#c40c12"/>
<rect x="461.95" y="226.00" width="3.3" height="3.2" rx="0.6" fill="#c40c12"/>
<rect x="473.69" y="221.70" width="3.3" height="3.2" rx="0.6" fill="#c40c12"/>
<rect x="485.43" y="217.50" width="3.3" height="3.2" rx="0.6" fill="#c40c12"/>
<rect x="497.17" y="214.80" width="3.3" height="3.2" rx="0.6" fill="#c40c12"/>
<rect x="508.91" y="209.90" width="3.3" height="3.2" rx="0.6" fill="#c40c12"/>
<polyline points="346.20,253.70 357.94,252.30 369.68,250.70 381.42,248.80 393.16,247.00 404.90,245.00 416.64,242.60 428.38,240.20 440.12,237.60 451.86,234.00 463.60,229.60 475.34,226.90 487.08,222.70 498.82,219.10" fill="none" stroke="#111111" stroke-width="1.2" stroke-linejoin="round"/>
<path d="M346.20,251.55 L348.15,253.70 L346.20,255.85 L344.25,253.70 Z" fill="#111111"/>
<path d="M357.94,250.15 L359.89,252.30 L357.94,254.45 L355.99,252.30 Z" fill="#111111"/>
<path d="M369.68,248.55 L371.63,250.70 L369.68,252.85 L367.73,250.70 Z" fill="#111111"/>
<path d="M381.42,246.65 L383.37,248.80 L381.42,250.95 L379.47,248.80 Z" fill="#111111"/>
<path d="M393.16,244.85 L395.11,247.00 L393.16,249.15 L391.21,247.00 Z" fill="#111111"/>
<path d="M404.90,242.85 L406.85,245.00 L404.90,247.15 L402.95,245.00 Z" fill="#111111"/>
<path d="M416.64,240.45 L418.59,242.60 L416.64,244.75 L414.69,242.60 Z" fill="#111111"/>
<path d="M428.38,238.05 L430.33,240.20 L428.38,242.35 L426.43,240.20 Z" fill="#111111"/>
<path d="M440.12,235.45 L442.07,237.60 L440.12,239.75 L438.17,237.60 Z" fill="#111111"/>
<path d="M451.86,231.85 L453.81,234.00 L451.86,236.15 L449.91,234.00 Z" fill="#111111"/>
<path d="M463.60,227.45 L465.55,229.60 L463.60,231.75 L461.65,229.60 Z" fill="#111111"/>
<path d="M475.34,224.75 L477.29,226.90 L475.34,229.05 L473.39,226.90 Z" fill="#111111"/>
<path d="M487.08,220.55 L489.03,222.70 L487.08,224.85 L485.13,222.70 Z" fill="#111111"/>
<path d="M498.82,216.95 L500.77,219.10 L498.82,221.25 L496.87,219.10 Z" fill="#111111"/>
<text x="343.40" y="204.70" font-size="6.3" text-anchor="start" fill="#1a1a1a" font-family="Liberation Sans" stroke="#1a1a1a" stroke-width="0.1" textLength="42.50" lengthAdjust="spacingAndGlyphs" >Amplitude: 1mm</text>
<text x="427.60" y="347.30" font-size="6.5" text-anchor="middle" fill="#1a1a1a" font-family="Liberation Sans" stroke="#1a1a1a" stroke-width="0.1" textLength="38.90" lengthAdjust="spacingAndGlyphs" >Frequency(Hz)</text>
<text x="311.50" y="262.50" font-size="6.2" text-anchor="middle" fill="#1a1a1a" font-family="Liberation Sans" stroke="#1a1a1a" stroke-width="0.1" textLength="68.20" lengthAdjust="spacingAndGlyphs" transform="rotate(-90 311.50 262.50)" >Dynamic stiffness(N/mm)</text>
<text x="543.50" y="262.70" font-size="6.2" text-anchor="middle" fill="#1a1a1a" font-family="Liberation Sans" stroke="#1a1a1a" stroke-width="0.1" textLength="29.70" lengthAdjust="spacingAndGlyphs" transform="rotate(-90 543.50 262.70)" >Loss factor</text>
<text x="287.10" y="194.00" font-size="18.5" text-anchor="start" fill="#111" font-family="Liberation Serif" stroke="#111" stroke-width="0.35" transform="translate(287.10 194.00) scale(1.16 1) translate(-287.10 -194.00)" >(d)</text>
<text x="119.00" y="133.00" font-size="6.3" text-anchor="end" fill="#1a1a1a" font-family="Liberation Sans" stroke="#1a1a1a" stroke-width="0.1" textLength="48.00" lengthAdjust="spacingAndGlyphs" >Dyanmic stiffness:</text>
<text x="118.00" y="145.20" font-size="6.3" text-anchor="end" fill="#1a1a1a" font-family="Liberation Sans" stroke="#1a1a1a" stroke-width="0.1" textLength="30.50" lengthAdjust="spacingAndGlyphs" >Loss factor:</text>
<line x1="123.80" y1="130.90" x2="136.80" y2="130.90" stroke="#0c66c4" stroke-width="1.1" />
<circle cx="130.30" cy="130.90" r="1.75" fill="#0c66c4"/>
<text x="137.80" y="133.10" font-size="6.3" text-anchor="start" fill="#1a1a1a" font-family="Liberation Sans" stroke="#1a1a1a" stroke-width="0.1" textLength="19.00" lengthAdjust="spacingAndGlyphs" >0.05Hz</text>
<line x1="163.30" y1="130.90" x2="176.00" y2="130.90" stroke="#c40c12" stroke-width="1.1" />
<rect x="168.00" y="129.30" width="3.3" height="3.2" rx="0.6" fill="#c40c12"/>
<text x="177.90" y="133.10" font-size="6.3" text-anchor="start" fill="#1a1a1a" font-family="Liberation Sans" stroke="#1a1a1a" stroke-width="0.1" textLength="9.60" lengthAdjust="spacingAndGlyphs" >1Hz</text>
<line x1="203.10" y1="130.90" x2="216.20" y2="130.90" stroke="#111111" stroke-width="1.1" />
<path d="M209.65,128.75 L211.60,130.90 L209.65,133.05 L207.70,130.90 Z" fill="#111111"/>
<text x="216.80" y="133.10" font-size="6.3" text-anchor="start" fill="#1a1a1a" font-family="Liberation Sans" stroke="#1a1a1a" stroke-width="0.1" textLength="14.00" lengthAdjust="spacingAndGlyphs" >20Hz</text>
<line x1="123.80" y1="143.00" x2="136.80" y2="143.00" stroke="#0c66c4" stroke-width="1.1" stroke-dasharray="2.2,1.3" />
<circle cx="130.30" cy="143.00" r="1.75" fill="#0c66c4"/>
<text x="137.80" y="145.20" font-size="6.3" text-anchor="start" fill="#1a1a1a" font-family="Liberation Sans" stroke="#1a1a1a" stroke-width="0.1" textLength="19.00" lengthAdjust="spacingAndGlyphs" >0.05Hz</text>
<line x1="163.30" y1="143.00" x2="176.00" y2="143.00" stroke="#c40c12" stroke-width="1.1" stroke-dasharray="2.2,1.3" />
<rect x="168.00" y="141.40" width="3.3" height="3.2" rx="0.6" fill="#c40c12"/>
<text x="177.90" y="145.20" font-size="6.3" text-anchor="start" fill="#1a1a1a" font-family="Liberation Sans" stroke="#1a1a1a" stroke-width="0.1" textLength="9.60" lengthAdjust="spacingAndGlyphs" >1Hz</text>
<line x1="203.10" y1="143.00" x2="216.20" y2="143.00" stroke="#111111" stroke-width="1.1" stroke-dasharray="2.2,1.3" />
<path d="M209.65,140.85 L211.60,143.00 L209.65,145.15 L207.70,143.00 Z" fill="#111111"/>
<text x="216.80" y="145.20" font-size="6.3" text-anchor="start" fill="#1a1a1a" font-family="Liberation Sans" stroke="#1a1a1a" stroke-width="0.1" textLength="14.00" lengthAdjust="spacingAndGlyphs" >20Hz</text>
<text x="408.20" y="122.80" font-size="6.4" text-anchor="start" fill="#1a1a1a" font-family="Liberation Sans" stroke="#1a1a1a" stroke-width="0.1" textLength="66.00" lengthAdjust="spacingAndGlyphs" >Transversal compression</text>
<text x="387.50" y="132.20" font-size="6.3" text-anchor="end" fill="#1a1a1a" font-family="Liberation Sans" stroke="#1a1a1a" stroke-width="0.1" textLength="47.50" lengthAdjust="spacingAndGlyphs" >Dynamic stiffness:</text>
<text x="387.50" y="144.40" font-size="6.3" text-anchor="end" fill="#1a1a1a" font-family="Liberation Sans" stroke="#1a1a1a" stroke-width="0.1" textLength="30.50" lengthAdjust="spacingAndGlyphs" >Loss factor:</text>
<line x1="398.10" y1="130.00" x2="410.60" y2="130.00" stroke="#c40c12" stroke-width="1.1" />
<rect x="402.70" y="128.40" width="3.3" height="3.2" rx="0.6" fill="#c40c12"/>
<text x="412.20" y="132.20" font-size="6.3" text-anchor="start" fill="#1a1a1a" font-family="Liberation Sans" stroke="#1a1a1a" stroke-width="0.1" textLength="13.50" lengthAdjust="spacingAndGlyphs" >0mm</text>
<line x1="452.80" y1="130.00" x2="464.30" y2="130.00" stroke="#111111" stroke-width="1.1" />
<path d="M458.55,127.85 L460.50,130.00 L458.55,132.15 L456.60,130.00 Z" fill="#111111"/>
<text x="465.40" y="132.20" font-size="6.3" text-anchor="start" fill="#1a1a1a" font-family="Liberation Sans" stroke="#1a1a1a" stroke-width="0.1" textLength="13.30" lengthAdjust="spacingAndGlyphs" >4mm</text>
<line x1="398.10" y1="142.40" x2="410.60" y2="142.40" stroke="#c40c12" stroke-width="1.1" stroke-dasharray="2.2,1.3" />
<rect x="402.70" y="140.80" width="3.3" height="3.2" rx="0.6" fill="#c40c12"/>
<text x="412.20" y="144.60" font-size="6.3" text-anchor="start" fill="#1a1a1a" font-family="Liberation Sans" stroke="#1a1a1a" stroke-width="0.1" textLength="13.50" lengthAdjust="spacingAndGlyphs" >0mm</text>
<line x1="452.80" y1="142.40" x2="464.30" y2="142.40" stroke="#111111" stroke-width="1.1" stroke-dasharray="2.2,1.3" />
<path d="M458.55,140.25 L460.50,142.40 L458.55,144.55 L456.60,142.40 Z" fill="#111111"/>
<text x="465.40" y="144.60" font-size="6.3" text-anchor="start" fill="#1a1a1a" font-family="Liberation Sans" stroke="#1a1a1a" stroke-width="0.1" textLength="13.30" lengthAdjust="spacingAndGlyphs" >4mm</text>
<text x="171.60" y="302.00" font-size="6.3" text-anchor="middle" fill="#1a1a1a" font-family="Liberation Sans" stroke="#1a1a1a" stroke-width="0.1" textLength="27.00" lengthAdjust="spacingAndGlyphs" >Amplitude</text>
<text x="119.10" y="309.80" font-size="6.3" text-anchor="end" fill="#1a1a1a" font-family="Liberation Sans" stroke="#1a1a1a" stroke-width="0.1" textLength="48.00" lengthAdjust="spacingAndGlyphs" >Dyanmic stiffness:</text>
<text x="119.10" y="321.60" font-size="6.3" text-anchor="end" fill="#1a1a1a" font-family="Liberation Sans" stroke="#1a1a1a" stroke-width="0.1" textLength="30.50" lengthAdjust="spacingAndGlyphs" >Loss factor:</text>
<line x1="123.70" y1="307.70" x2="136.40" y2="307.70" stroke="#0c66c4" stroke-width="1.1" />
<circle cx="130.05" cy="307.70" r="1.75" fill="#0c66c4"/>
<text x="137.90" y="309.90" font-size="6.3" text-anchor="start" fill="#1a1a1a" font-family="Liberation Sans" stroke="#1a1a1a" stroke-width="0.1" textLength="22.00" lengthAdjust="spacingAndGlyphs" >0.01mm</text>
<line x1="163.00" y1="307.70" x2="175.40" y2="307.70" stroke="#c40c12" stroke-width="1.1" />
<rect x="167.55" y="306.10" width="3.3" height="3.2" rx="0.6" fill="#c40c12"/>
<text x="177.00" y="309.90" font-size="6.3" text-anchor="start" fill="#1a1a1a" font-family="Liberation Sans" stroke="#1a1a1a" stroke-width="0.1" textLength="18.40" lengthAdjust="spacingAndGlyphs" >0.1mm</text>
<line x1="202.30" y1="307.70" x2="215.40" y2="307.70" stroke="#111111" stroke-width="1.1" />
<path d="M208.85,305.55 L210.80,307.70 L208.85,309.85 L206.90,307.70 Z" fill="#111111"/>
<text x="217.20" y="309.90" font-size="6.3" text-anchor="start" fill="#1a1a1a" font-family="Liberation Sans" stroke="#1a1a1a" stroke-width="0.1" textLength="13.00" lengthAdjust="spacingAndGlyphs" >1mm</text>
<line x1="123.70" y1="319.60" x2="136.40" y2="319.60" stroke="#0c66c4" stroke-width="1.1" stroke-dasharray="2.2,1.3" />
<circle cx="130.05" cy="319.60" r="1.75" fill="#0c66c4"/>
<text x="137.90" y="321.80" font-size="6.3" text-anchor="start" fill="#1a1a1a" font-family="Liberation Sans" stroke="#1a1a1a" stroke-width="0.1" textLength="22.00" lengthAdjust="spacingAndGlyphs" >0.01mm</text>
<line x1="163.00" y1="319.60" x2="175.40" y2="319.60" stroke="#c40c12" stroke-width="1.1" stroke-dasharray="2.2,1.3" />
<rect x="167.55" y="318.00" width="3.3" height="3.2" rx="0.6" fill="#c40c12"/>
<text x="177.00" y="321.80" font-size="6.3" text-anchor="start" fill="#1a1a1a" font-family="Liberation Sans" stroke="#1a1a1a" stroke-width="0.1" textLength="18.40" lengthAdjust="spacingAndGlyphs" >0.1mm</text>
<line x1="202.30" y1="319.60" x2="215.40" y2="319.60" stroke="#111111" stroke-width="1.1" stroke-dasharray="2.2,1.3" />
<path d="M208.85,317.45 L210.80,319.60 L208.85,321.75 L206.90,319.60 Z" fill="#111111"/>
<text x="217.20" y="321.80" font-size="6.3" text-anchor="start" fill="#1a1a1a" font-family="Liberation Sans" stroke="#1a1a1a" stroke-width="0.1" textLength="13.00" lengthAdjust="spacingAndGlyphs" >1mm</text>
<text x="415.00" y="301.40" font-size="6.4" text-anchor="start" fill="#1a1a1a" font-family="Liberation Sans" stroke="#1a1a1a" stroke-width="0.1" textLength="67.00" lengthAdjust="spacingAndGlyphs" >Transversal compression</text>
<text x="388.20" y="309.60" font-size="6.3" text-anchor="end" fill="#1a1a1a" font-family="Liberation Sans" stroke="#1a1a1a" stroke-width="0.1" textLength="47.30" lengthAdjust="spacingAndGlyphs" >Dyanmic stiffness:</text>
<text x="388.50" y="320.80" font-size="6.3" text-anchor="end" fill="#1a1a1a" font-family="Liberation Sans" stroke="#1a1a1a" stroke-width="0.1" textLength="30.30" lengthAdjust="spacingAndGlyphs" >Loss factor:</text>
<line x1="405.30" y1="307.60" x2="418.70" y2="307.60" stroke="#c40c12" stroke-width="1.1" />
<rect x="410.35" y="306.00" width="3.3" height="3.2" rx="0.6" fill="#c40c12"/>
<text x="419.50" y="309.80" font-size="6.3" text-anchor="start" fill="#1a1a1a" font-family="Liberation Sans" stroke="#1a1a1a" stroke-width="0.1" textLength="13.40" lengthAdjust="spacingAndGlyphs" >0mm</text>
<line x1="462.60" y1="307.60" x2="476.00" y2="307.60" stroke="#111111" stroke-width="1.1" />
<path d="M469.30,305.45 L471.25,307.60 L469.30,309.75 L467.35,307.60 Z" fill="#111111"/>
<text x="476.80" y="309.80" font-size="6.3" text-anchor="start" fill="#1a1a1a" font-family="Liberation Sans" stroke="#1a1a1a" stroke-width="0.1" textLength="12.90" lengthAdjust="spacingAndGlyphs" >4mm</text>
<line x1="405.30" y1="319.20" x2="418.70" y2="319.20" stroke="#c40c12" stroke-width="1.1" stroke-dasharray="2.2,1.3" />
<rect x="410.35" y="317.60" width="3.3" height="3.2" rx="0.6" fill="#c40c12"/>
<text x="419.50" y="321.40" font-size="6.3" text-anchor="start" fill="#1a1a1a" font-family="Liberation Sans" stroke="#1a1a1a" stroke-width="0.1" textLength="13.40" lengthAdjust="spacingAndGlyphs" >0mm</text>
<line x1="462.60" y1="319.20" x2="476.00" y2="319.20" stroke="#111111" stroke-width="1.1" stroke-dasharray="2.2,1.3" />
<path d="M469.30,317.05 L471.25,319.20 L469.30,321.35 L467.35,319.20 Z" fill="#111111"/>
<text x="476.80" y="321.40" font-size="6.3" text-anchor="start" fill="#1a1a1a" font-family="Liberation Sans" stroke="#1a1a1a" stroke-width="0.1" textLength="12.90" lengthAdjust="spacingAndGlyphs" >4mm</text>
<circle cx="312.7" cy="52.0" r="0.7" fill="#bbb"/>
<circle cx="312.6" cy="114.7" r="0.7" fill="#aaa"/>
</svg>
</body></html>
